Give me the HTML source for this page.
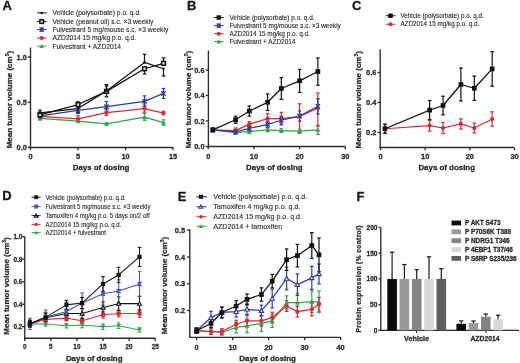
<!DOCTYPE html><html><head><meta charset="utf-8"><style>html,body{margin:0;padding:0;background:#fff;}svg{display:block;font-family:"Liberation Sans",sans-serif;filter:blur(0.35px);}text{stroke:#2a2a2a;stroke-width:0.12px;}text[font-weight=bold]{stroke-width:0.28px;}</style></head><body>
<svg width="520" height="363" viewBox="0 0 520 363">
<rect width="520" height="363" fill="#fff"/>
<text x="2.6" y="10.2" font-size="13" font-weight="bold" text-anchor="start" fill="#111">A</text>
<text x="186.9" y="9.8" font-size="13" font-weight="bold" text-anchor="start" fill="#111">B</text>
<text x="352" y="10" font-size="13" font-weight="bold" text-anchor="start" fill="#111">C</text>
<text x="2.3" y="200.4" font-size="13" font-weight="bold" text-anchor="start" fill="#111">D</text>
<text x="177.7" y="200.5" font-size="13" font-weight="bold" text-anchor="start" fill="#111">E</text>
<text x="356.6" y="200.5" font-size="13" font-weight="bold" text-anchor="start" fill="#111">F</text>
<line x1="30.5" y1="147.5" x2="30.5" y2="47.5" stroke="#2a2a2a" stroke-width="1.35"/>
<line x1="29.82" y1="147.5" x2="173" y2="147.5" stroke="#2a2a2a" stroke-width="1.35"/>
<line x1="27.8" y1="147.4" x2="30.5" y2="147.4" stroke="#2a2a2a" stroke-width="1.35"/>
<text x="26.8" y="149.99" font-size="7.4" font-weight="bold" text-anchor="end" fill="#2a2a2a">0.0</text>
<line x1="27.8" y1="102.2" x2="30.5" y2="102.2" stroke="#2a2a2a" stroke-width="1.35"/>
<text x="26.8" y="104.79" font-size="7.4" font-weight="bold" text-anchor="end" fill="#2a2a2a">0.5</text>
<line x1="27.8" y1="57" x2="30.5" y2="57" stroke="#2a2a2a" stroke-width="1.35"/>
<text x="26.8" y="59.59" font-size="7.4" font-weight="bold" text-anchor="end" fill="#2a2a2a">1.0</text>
<line x1="30.5" y1="147.5" x2="30.5" y2="150.2" stroke="#2a2a2a" stroke-width="1.35"/>
<text x="30.5" y="158.8" font-size="7.4" font-weight="bold" text-anchor="middle" fill="#2a2a2a">0</text>
<line x1="78" y1="147.5" x2="78" y2="150.2" stroke="#2a2a2a" stroke-width="1.35"/>
<text x="78" y="158.8" font-size="7.4" font-weight="bold" text-anchor="middle" fill="#2a2a2a">5</text>
<line x1="125.5" y1="147.5" x2="125.5" y2="150.2" stroke="#2a2a2a" stroke-width="1.35"/>
<text x="125.5" y="158.8" font-size="7.4" font-weight="bold" text-anchor="middle" fill="#2a2a2a">10</text>
<line x1="173" y1="147.5" x2="173" y2="150.2" stroke="#2a2a2a" stroke-width="1.35"/>
<text x="173" y="158.8" font-size="7.4" font-weight="bold" text-anchor="middle" fill="#2a2a2a">15</text>
<text transform="translate(12,99.6) rotate(-90)" x="0" y="0" font-size="8" font-weight="bold" text-anchor="middle" fill="#2a2a2a">Mean tumor volume (cm<tspan dy="-3" font-size="5">3</tspan><tspan dy="3">)</tspan></text>
<text x="101" y="170" font-size="7.9" font-weight="bold" text-anchor="middle" fill="#2a2a2a">Days of dosing</text>
<polyline points="40,118.47 78,121.18 106.5,123.9 144.5,117.12 163.5,122.54" fill="none" stroke="#34a04a" stroke-width="1.25" stroke-linejoin="round"/>
<polyline points="40,116.39 78,118.92 106.5,112.6 144.5,108.53 163.5,113.05" fill="none" stroke="#d52b36" stroke-width="1.25" stroke-linejoin="round"/>
<polyline points="40,115.94 78,110.34 106.5,106.72 144.5,101.3 163.5,93.43" fill="none" stroke="#2f3f96" stroke-width="1.25" stroke-linejoin="round"/>
<polyline points="40,114.86 78,104.55 106.5,91.35 144.5,68.75 163.5,63.33" fill="none" stroke="#111" stroke-width="1.25" stroke-linejoin="round"/>
<polyline points="40,112.87 78,108.53 106.5,90.9 144.5,62.42 163.5,68.75" fill="none" stroke="#111" stroke-width="1.25" stroke-linejoin="round"/>
<line x1="40" y1="117.12" x2="40" y2="119.83" stroke="#34a04a" stroke-width="1.2"/>
<line x1="38.2" y1="117.12" x2="41.8" y2="117.12" stroke="#34a04a" stroke-width="1.2"/>
<line x1="38.2" y1="119.83" x2="41.8" y2="119.83" stroke="#34a04a" stroke-width="1.2"/>
<line x1="78" y1="119.83" x2="78" y2="122.54" stroke="#34a04a" stroke-width="1.2"/>
<line x1="76.2" y1="119.83" x2="79.8" y2="119.83" stroke="#34a04a" stroke-width="1.2"/>
<line x1="76.2" y1="122.54" x2="79.8" y2="122.54" stroke="#34a04a" stroke-width="1.2"/>
<line x1="106.5" y1="122.81" x2="106.5" y2="124.98" stroke="#34a04a" stroke-width="1.2"/>
<line x1="104.7" y1="122.81" x2="108.3" y2="122.81" stroke="#34a04a" stroke-width="1.2"/>
<line x1="104.7" y1="124.98" x2="108.3" y2="124.98" stroke="#34a04a" stroke-width="1.2"/>
<line x1="144.5" y1="113.5" x2="144.5" y2="120.28" stroke="#34a04a" stroke-width="1.2"/>
<line x1="142.7" y1="113.5" x2="146.3" y2="113.5" stroke="#34a04a" stroke-width="1.2"/>
<line x1="142.7" y1="120.28" x2="146.3" y2="120.28" stroke="#34a04a" stroke-width="1.2"/>
<line x1="163.5" y1="119.83" x2="163.5" y2="125.25" stroke="#34a04a" stroke-width="1.2"/>
<line x1="161.7" y1="119.83" x2="165.3" y2="119.83" stroke="#34a04a" stroke-width="1.2"/>
<line x1="161.7" y1="125.25" x2="165.3" y2="125.25" stroke="#34a04a" stroke-width="1.2"/>
<line x1="40" y1="114.58" x2="40" y2="118.2" stroke="#d52b36" stroke-width="1.2"/>
<line x1="38.2" y1="114.58" x2="41.8" y2="114.58" stroke="#d52b36" stroke-width="1.2"/>
<line x1="38.2" y1="118.2" x2="41.8" y2="118.2" stroke="#d52b36" stroke-width="1.2"/>
<line x1="78" y1="115.76" x2="78" y2="122.09" stroke="#d52b36" stroke-width="1.2"/>
<line x1="76.2" y1="115.76" x2="79.8" y2="115.76" stroke="#d52b36" stroke-width="1.2"/>
<line x1="76.2" y1="122.09" x2="79.8" y2="122.09" stroke="#d52b36" stroke-width="1.2"/>
<line x1="106.5" y1="109.88" x2="106.5" y2="115.31" stroke="#d52b36" stroke-width="1.2"/>
<line x1="104.7" y1="109.88" x2="108.3" y2="109.88" stroke="#d52b36" stroke-width="1.2"/>
<line x1="104.7" y1="115.31" x2="108.3" y2="115.31" stroke="#d52b36" stroke-width="1.2"/>
<line x1="144.5" y1="104.91" x2="144.5" y2="112.14" stroke="#d52b36" stroke-width="1.2"/>
<line x1="142.7" y1="104.91" x2="146.3" y2="104.91" stroke="#d52b36" stroke-width="1.2"/>
<line x1="142.7" y1="112.14" x2="146.3" y2="112.14" stroke="#d52b36" stroke-width="1.2"/>
<line x1="163.5" y1="111.24" x2="163.5" y2="114.86" stroke="#d52b36" stroke-width="1.2"/>
<line x1="161.7" y1="111.24" x2="165.3" y2="111.24" stroke="#d52b36" stroke-width="1.2"/>
<line x1="161.7" y1="114.86" x2="165.3" y2="114.86" stroke="#d52b36" stroke-width="1.2"/>
<line x1="40" y1="114.13" x2="40" y2="117.75" stroke="#2f3f96" stroke-width="1.2"/>
<line x1="38.2" y1="114.13" x2="41.8" y2="114.13" stroke="#2f3f96" stroke-width="1.2"/>
<line x1="38.2" y1="117.75" x2="41.8" y2="117.75" stroke="#2f3f96" stroke-width="1.2"/>
<line x1="78" y1="107.17" x2="78" y2="113.5" stroke="#2f3f96" stroke-width="1.2"/>
<line x1="76.2" y1="107.17" x2="79.8" y2="107.17" stroke="#2f3f96" stroke-width="1.2"/>
<line x1="76.2" y1="113.5" x2="79.8" y2="113.5" stroke="#2f3f96" stroke-width="1.2"/>
<line x1="106.5" y1="101.57" x2="106.5" y2="111.87" stroke="#2f3f96" stroke-width="1.2"/>
<line x1="104.7" y1="101.57" x2="108.3" y2="101.57" stroke="#2f3f96" stroke-width="1.2"/>
<line x1="104.7" y1="111.87" x2="108.3" y2="111.87" stroke="#2f3f96" stroke-width="1.2"/>
<line x1="144.5" y1="95.87" x2="144.5" y2="106.72" stroke="#2f3f96" stroke-width="1.2"/>
<line x1="142.7" y1="95.87" x2="146.3" y2="95.87" stroke="#2f3f96" stroke-width="1.2"/>
<line x1="142.7" y1="106.72" x2="146.3" y2="106.72" stroke="#2f3f96" stroke-width="1.2"/>
<line x1="163.5" y1="88.46" x2="163.5" y2="98.4" stroke="#2f3f96" stroke-width="1.2"/>
<line x1="161.7" y1="88.46" x2="165.3" y2="88.46" stroke="#2f3f96" stroke-width="1.2"/>
<line x1="161.7" y1="98.4" x2="165.3" y2="98.4" stroke="#2f3f96" stroke-width="1.2"/>
<line x1="40" y1="112.14" x2="40" y2="117.57" stroke="#111" stroke-width="1.2"/>
<line x1="38.2" y1="112.14" x2="41.8" y2="112.14" stroke="#111" stroke-width="1.2"/>
<line x1="38.2" y1="117.57" x2="41.8" y2="117.57" stroke="#111" stroke-width="1.2"/>
<line x1="78" y1="101.84" x2="78" y2="104.55" stroke="#111" stroke-width="1.2"/>
<line x1="76.2" y1="101.84" x2="79.8" y2="101.84" stroke="#111" stroke-width="1.2"/>
<line x1="106.5" y1="85.93" x2="106.5" y2="96.78" stroke="#111" stroke-width="1.2"/>
<line x1="104.7" y1="85.93" x2="108.3" y2="85.93" stroke="#111" stroke-width="1.2"/>
<line x1="104.7" y1="96.78" x2="108.3" y2="96.78" stroke="#111" stroke-width="1.2"/>
<line x1="144.5" y1="68.75" x2="144.5" y2="74" stroke="#111" stroke-width="1.2"/>
<line x1="142.7" y1="74" x2="146.3" y2="74" stroke="#111" stroke-width="1.2"/>
<line x1="163.5" y1="57.9" x2="163.5" y2="63.33" stroke="#111" stroke-width="1.2"/>
<line x1="161.7" y1="57.9" x2="165.3" y2="57.9" stroke="#111" stroke-width="1.2"/>
<line x1="40" y1="110.16" x2="40" y2="115.58" stroke="#111" stroke-width="1.2"/>
<line x1="38.2" y1="110.16" x2="41.8" y2="110.16" stroke="#111" stroke-width="1.2"/>
<line x1="38.2" y1="115.58" x2="41.8" y2="115.58" stroke="#111" stroke-width="1.2"/>
<line x1="78" y1="108.53" x2="78" y2="112.6" stroke="#111" stroke-width="1.2"/>
<line x1="76.2" y1="112.6" x2="79.8" y2="112.6" stroke="#111" stroke-width="1.2"/>
<line x1="106.5" y1="84.57" x2="106.5" y2="90.9" stroke="#111" stroke-width="1.2"/>
<line x1="104.7" y1="84.57" x2="108.3" y2="84.57" stroke="#111" stroke-width="1.2"/>
<line x1="144.5" y1="54.29" x2="144.5" y2="62.42" stroke="#111" stroke-width="1.2"/>
<line x1="142.7" y1="54.29" x2="146.3" y2="54.29" stroke="#111" stroke-width="1.2"/>
<line x1="163.5" y1="68.75" x2="163.5" y2="75.98" stroke="#111" stroke-width="1.2"/>
<line x1="161.7" y1="75.98" x2="165.3" y2="75.98" stroke="#111" stroke-width="1.2"/>
<path d="M40 116.07L42.4 120.39L37.6 120.39Z" fill="#34a04a"/>
<path d="M78 118.78L80.4 123.1L75.6 123.1Z" fill="#34a04a"/>
<path d="M106.5 121.5L108.9 125.82L104.1 125.82Z" fill="#34a04a"/>
<path d="M144.5 114.72L146.9 119.04L142.1 119.04Z" fill="#34a04a"/>
<path d="M163.5 120.14L165.9 124.46L161.1 124.46Z" fill="#34a04a"/>
<circle cx="40" cy="116.39" r="2.1" fill="#d52b36"/>
<circle cx="78" cy="118.92" r="2.1" fill="#d52b36"/>
<circle cx="106.5" cy="112.6" r="2.1" fill="#d52b36"/>
<circle cx="144.5" cy="108.53" r="2.1" fill="#d52b36"/>
<circle cx="163.5" cy="113.05" r="2.1" fill="#d52b36"/>
<path d="M37.8 113.74L42.2 118.14M42.2 113.74L37.8 118.14M40 113.52L40 118.36" stroke="#2f3f96" stroke-width="1.3" fill="none"/>
<path d="M75.8 108.14L80.2 112.54M80.2 108.14L75.8 112.54M78 107.92L78 112.76" stroke="#2f3f96" stroke-width="1.3" fill="none"/>
<path d="M104.3 104.52L108.7 108.92M108.7 104.52L104.3 108.92M106.5 104.3L106.5 109.14" stroke="#2f3f96" stroke-width="1.3" fill="none"/>
<path d="M142.3 99.1L146.7 103.5M146.7 99.1L142.3 103.5M144.5 98.88L144.5 103.72" stroke="#2f3f96" stroke-width="1.3" fill="none"/>
<path d="M161.3 91.23L165.7 95.63M165.7 91.23L161.3 95.63M163.5 91.01L163.5 95.85" stroke="#2f3f96" stroke-width="1.3" fill="none"/>
<rect x="38.1" y="112.96" width="3.8" height="3.8" fill="#e4e4e4" stroke="#111" stroke-width="1.5"/>
<rect x="76.1" y="102.65" width="3.8" height="3.8" fill="#e4e4e4" stroke="#111" stroke-width="1.5"/>
<rect x="104.6" y="89.45" width="3.8" height="3.8" fill="#e4e4e4" stroke="#111" stroke-width="1.5"/>
<rect x="142.6" y="66.85" width="3.8" height="3.8" fill="#e4e4e4" stroke="#111" stroke-width="1.5"/>
<rect x="161.6" y="61.43" width="3.8" height="3.8" fill="#e4e4e4" stroke="#111" stroke-width="1.5"/>
<circle cx="40" cy="112.87" r="1.3" fill="#111"/>
<circle cx="78" cy="108.53" r="1.3" fill="#111"/>
<circle cx="106.5" cy="90.9" r="1.3" fill="#111"/>
<circle cx="144.5" cy="62.42" r="1.3" fill="#111"/>
<circle cx="163.5" cy="68.75" r="1.3" fill="#111"/>
<line x1="37" y1="12.9" x2="46.7" y2="12.9" stroke="#111" stroke-width="1.0"/>
<circle cx="41.7" cy="12.9" r="1.23" fill="#111"/>
<text x="52.5" y="15.25" font-size="6.7" text-anchor="start" fill="#2a2a2a">Vehicle (polysorbate) p.o. q.d.</text>
<line x1="37" y1="21.6" x2="46.7" y2="21.6" stroke="#111" stroke-width="1.0"/>
<rect x="39.9" y="19.8" width="3.61" height="3.61" fill="#e4e4e4" stroke="#111" stroke-width="1.5"/>
<text x="52.5" y="23.95" font-size="6.7" text-anchor="start" fill="#2a2a2a">Vehicle (peanut oil) s.c. ×3 weekly</text>
<line x1="37" y1="29.6" x2="46.7" y2="29.6" stroke="#2f3f96" stroke-width="1.0"/>
<path d="M39.61 27.51L43.79 31.69M43.79 27.51L39.61 31.69M41.7 27.3L41.7 31.9" stroke="#2f3f96" stroke-width="1.3" fill="none"/>
<text x="52.5" y="31.95" font-size="6.7" text-anchor="start" fill="#2a2a2a">Fulvestrant 5 mg/mouse s.c. ×3 weekly</text>
<line x1="37" y1="38.1" x2="46.7" y2="38.1" stroke="#d52b36" stroke-width="1.0"/>
<circle cx="41.7" cy="38.1" r="1.99" fill="#d52b36"/>
<text x="52.5" y="40.45" font-size="6.7" text-anchor="start" fill="#2a2a2a">AZD2014 15 mg/kg p.o. q.d.</text>
<line x1="37" y1="46.2" x2="46.7" y2="46.2" stroke="#34a04a" stroke-width="1.0"/>
<path d="M41.7 43.92L43.98 48.02L39.42 48.02Z" fill="#34a04a"/>
<text x="52.5" y="48.55" font-size="6.7" text-anchor="start" fill="#2a2a2a">Fulvestrant + AZD2014</text>
<line x1="208.4" y1="146.5" x2="208.4" y2="50.5" stroke="#2a2a2a" stroke-width="1.35"/>
<line x1="207.72" y1="146.5" x2="345.3" y2="146.5" stroke="#2a2a2a" stroke-width="1.35"/>
<line x1="205.7" y1="146.5" x2="208.4" y2="146.5" stroke="#2a2a2a" stroke-width="1.35"/>
<text x="204.5" y="149.09" font-size="7.4" font-weight="bold" text-anchor="end" fill="#2a2a2a">0.0</text>
<line x1="205.7" y1="121" x2="208.4" y2="121" stroke="#2a2a2a" stroke-width="1.35"/>
<text x="204.5" y="123.59" font-size="7.4" font-weight="bold" text-anchor="end" fill="#2a2a2a">0.2</text>
<line x1="205.7" y1="95.5" x2="208.4" y2="95.5" stroke="#2a2a2a" stroke-width="1.35"/>
<text x="204.5" y="98.09" font-size="7.4" font-weight="bold" text-anchor="end" fill="#2a2a2a">0.4</text>
<line x1="205.7" y1="70" x2="208.4" y2="70" stroke="#2a2a2a" stroke-width="1.35"/>
<text x="204.5" y="72.59" font-size="7.4" font-weight="bold" text-anchor="end" fill="#2a2a2a">0.6</text>
<line x1="208.2" y1="146.5" x2="208.2" y2="149.2" stroke="#2a2a2a" stroke-width="1.35"/>
<text x="208.2" y="158.6" font-size="7.4" font-weight="bold" text-anchor="middle" fill="#2a2a2a">0</text>
<line x1="253.9" y1="146.5" x2="253.9" y2="149.2" stroke="#2a2a2a" stroke-width="1.35"/>
<text x="253.9" y="158.6" font-size="7.4" font-weight="bold" text-anchor="middle" fill="#2a2a2a">10</text>
<line x1="299.6" y1="146.5" x2="299.6" y2="149.2" stroke="#2a2a2a" stroke-width="1.35"/>
<text x="299.6" y="158.6" font-size="7.4" font-weight="bold" text-anchor="middle" fill="#2a2a2a">20</text>
<line x1="345.3" y1="146.5" x2="345.3" y2="149.2" stroke="#2a2a2a" stroke-width="1.35"/>
<text x="345.3" y="158.6" font-size="7.4" font-weight="bold" text-anchor="middle" fill="#2a2a2a">30</text>
<text transform="translate(191.4,99.5) rotate(-90)" x="0" y="0" font-size="8" font-weight="bold" text-anchor="middle" fill="#2a2a2a">Mean tumor volume (cm<tspan dy="-3" font-size="5">3</tspan><tspan dy="3">)</tspan></text>
<text x="274.4" y="170.4" font-size="7.9" font-weight="bold" text-anchor="middle" fill="#2a2a2a">Days of dosing</text>
<polyline points="212.77,129.93 235.62,132.6 249.33,131.71 267.61,129.93 281.32,130.56 299.6,131.2 317.88,129.93" fill="none" stroke="#34a04a" stroke-width="1.25" stroke-linejoin="round"/>
<polyline points="212.77,129.93 235.62,130.56 249.33,124.19 267.61,118.7 281.32,118.7 299.6,116.54 317.88,108.25" fill="none" stroke="#d52b36" stroke-width="1.25" stroke-linejoin="round"/>
<polyline points="212.77,129.93 235.62,131.97 249.33,128.4 267.61,124.31 281.32,120.23 299.6,116.03 317.88,106.34" fill="none" stroke="#2f3f96" stroke-width="1.25" stroke-linejoin="round"/>
<polyline points="212.77,129.93 235.62,119.72 249.33,111.06 267.61,102.26 281.32,88.49 299.6,80.84 317.88,71.53" fill="none" stroke="#111" stroke-width="1.25" stroke-linejoin="round"/>
<line x1="212.77" y1="128.4" x2="212.77" y2="131.45" stroke="#34a04a" stroke-width="1.2"/>
<line x1="210.97" y1="128.4" x2="214.57" y2="128.4" stroke="#34a04a" stroke-width="1.2"/>
<line x1="210.97" y1="131.45" x2="214.57" y2="131.45" stroke="#34a04a" stroke-width="1.2"/>
<line x1="235.62" y1="131.33" x2="235.62" y2="133.88" stroke="#34a04a" stroke-width="1.2"/>
<line x1="233.82" y1="131.33" x2="237.42" y2="131.33" stroke="#34a04a" stroke-width="1.2"/>
<line x1="233.82" y1="133.88" x2="237.42" y2="133.88" stroke="#34a04a" stroke-width="1.2"/>
<line x1="249.33" y1="130.18" x2="249.33" y2="133.24" stroke="#34a04a" stroke-width="1.2"/>
<line x1="247.53" y1="130.18" x2="251.13" y2="130.18" stroke="#34a04a" stroke-width="1.2"/>
<line x1="247.53" y1="133.24" x2="251.13" y2="133.24" stroke="#34a04a" stroke-width="1.2"/>
<line x1="267.61" y1="128.01" x2="267.61" y2="131.84" stroke="#34a04a" stroke-width="1.2"/>
<line x1="265.81" y1="128.01" x2="269.41" y2="128.01" stroke="#34a04a" stroke-width="1.2"/>
<line x1="265.81" y1="131.84" x2="269.41" y2="131.84" stroke="#34a04a" stroke-width="1.2"/>
<line x1="281.32" y1="128.65" x2="281.32" y2="132.47" stroke="#34a04a" stroke-width="1.2"/>
<line x1="279.52" y1="128.65" x2="283.12" y2="128.65" stroke="#34a04a" stroke-width="1.2"/>
<line x1="279.52" y1="132.47" x2="283.12" y2="132.47" stroke="#34a04a" stroke-width="1.2"/>
<line x1="299.6" y1="129.29" x2="299.6" y2="133.11" stroke="#34a04a" stroke-width="1.2"/>
<line x1="297.8" y1="129.29" x2="301.4" y2="129.29" stroke="#34a04a" stroke-width="1.2"/>
<line x1="297.8" y1="133.11" x2="301.4" y2="133.11" stroke="#34a04a" stroke-width="1.2"/>
<line x1="317.88" y1="125.46" x2="317.88" y2="134.39" stroke="#34a04a" stroke-width="1.2"/>
<line x1="316.08" y1="125.46" x2="319.68" y2="125.46" stroke="#34a04a" stroke-width="1.2"/>
<line x1="316.08" y1="134.39" x2="319.68" y2="134.39" stroke="#34a04a" stroke-width="1.2"/>
<line x1="212.77" y1="128.4" x2="212.77" y2="131.45" stroke="#d52b36" stroke-width="1.2"/>
<line x1="210.97" y1="128.4" x2="214.57" y2="128.4" stroke="#d52b36" stroke-width="1.2"/>
<line x1="210.97" y1="131.45" x2="214.57" y2="131.45" stroke="#d52b36" stroke-width="1.2"/>
<line x1="235.62" y1="128.01" x2="235.62" y2="133.11" stroke="#d52b36" stroke-width="1.2"/>
<line x1="233.82" y1="128.01" x2="237.42" y2="128.01" stroke="#d52b36" stroke-width="1.2"/>
<line x1="233.82" y1="133.11" x2="237.42" y2="133.11" stroke="#d52b36" stroke-width="1.2"/>
<line x1="249.33" y1="121.64" x2="249.33" y2="126.74" stroke="#d52b36" stroke-width="1.2"/>
<line x1="247.53" y1="121.64" x2="251.13" y2="121.64" stroke="#d52b36" stroke-width="1.2"/>
<line x1="247.53" y1="126.74" x2="251.13" y2="126.74" stroke="#d52b36" stroke-width="1.2"/>
<line x1="267.61" y1="113.6" x2="267.61" y2="123.81" stroke="#d52b36" stroke-width="1.2"/>
<line x1="265.81" y1="113.6" x2="269.41" y2="113.6" stroke="#d52b36" stroke-width="1.2"/>
<line x1="265.81" y1="123.81" x2="269.41" y2="123.81" stroke="#d52b36" stroke-width="1.2"/>
<line x1="281.32" y1="112.33" x2="281.32" y2="125.08" stroke="#d52b36" stroke-width="1.2"/>
<line x1="279.52" y1="112.33" x2="283.12" y2="112.33" stroke="#d52b36" stroke-width="1.2"/>
<line x1="279.52" y1="125.08" x2="283.12" y2="125.08" stroke="#d52b36" stroke-width="1.2"/>
<line x1="299.6" y1="103.79" x2="299.6" y2="133.11" stroke="#d52b36" stroke-width="1.2"/>
<line x1="297.8" y1="103.79" x2="301.4" y2="103.79" stroke="#d52b36" stroke-width="1.2"/>
<line x1="297.8" y1="133.11" x2="301.4" y2="133.11" stroke="#d52b36" stroke-width="1.2"/>
<line x1="317.88" y1="92.95" x2="317.88" y2="126.1" stroke="#d52b36" stroke-width="1.2"/>
<line x1="316.08" y1="92.95" x2="319.68" y2="92.95" stroke="#d52b36" stroke-width="1.2"/>
<line x1="316.08" y1="126.1" x2="319.68" y2="126.1" stroke="#d52b36" stroke-width="1.2"/>
<line x1="212.77" y1="128.4" x2="212.77" y2="131.45" stroke="#2f3f96" stroke-width="1.2"/>
<line x1="210.97" y1="128.4" x2="214.57" y2="128.4" stroke="#2f3f96" stroke-width="1.2"/>
<line x1="210.97" y1="131.45" x2="214.57" y2="131.45" stroke="#2f3f96" stroke-width="1.2"/>
<line x1="235.62" y1="130.05" x2="235.62" y2="133.88" stroke="#2f3f96" stroke-width="1.2"/>
<line x1="233.82" y1="130.05" x2="237.42" y2="130.05" stroke="#2f3f96" stroke-width="1.2"/>
<line x1="233.82" y1="133.88" x2="237.42" y2="133.88" stroke="#2f3f96" stroke-width="1.2"/>
<line x1="249.33" y1="125.84" x2="249.33" y2="130.94" stroke="#2f3f96" stroke-width="1.2"/>
<line x1="247.53" y1="125.84" x2="251.13" y2="125.84" stroke="#2f3f96" stroke-width="1.2"/>
<line x1="247.53" y1="130.94" x2="251.13" y2="130.94" stroke="#2f3f96" stroke-width="1.2"/>
<line x1="267.61" y1="121.13" x2="267.61" y2="127.5" stroke="#2f3f96" stroke-width="1.2"/>
<line x1="265.81" y1="121.13" x2="269.41" y2="121.13" stroke="#2f3f96" stroke-width="1.2"/>
<line x1="265.81" y1="127.5" x2="269.41" y2="127.5" stroke="#2f3f96" stroke-width="1.2"/>
<line x1="281.32" y1="116.41" x2="281.32" y2="124.06" stroke="#2f3f96" stroke-width="1.2"/>
<line x1="279.52" y1="116.41" x2="283.12" y2="116.41" stroke="#2f3f96" stroke-width="1.2"/>
<line x1="279.52" y1="124.06" x2="283.12" y2="124.06" stroke="#2f3f96" stroke-width="1.2"/>
<line x1="299.6" y1="110.93" x2="299.6" y2="121.13" stroke="#2f3f96" stroke-width="1.2"/>
<line x1="297.8" y1="110.93" x2="301.4" y2="110.93" stroke="#2f3f96" stroke-width="1.2"/>
<line x1="297.8" y1="121.13" x2="301.4" y2="121.13" stroke="#2f3f96" stroke-width="1.2"/>
<line x1="317.88" y1="98.69" x2="317.88" y2="113.99" stroke="#2f3f96" stroke-width="1.2"/>
<line x1="316.08" y1="98.69" x2="319.68" y2="98.69" stroke="#2f3f96" stroke-width="1.2"/>
<line x1="316.08" y1="113.99" x2="319.68" y2="113.99" stroke="#2f3f96" stroke-width="1.2"/>
<line x1="212.77" y1="128.01" x2="212.77" y2="131.84" stroke="#111" stroke-width="1.2"/>
<line x1="210.97" y1="128.01" x2="214.57" y2="128.01" stroke="#111" stroke-width="1.2"/>
<line x1="210.97" y1="131.84" x2="214.57" y2="131.84" stroke="#111" stroke-width="1.2"/>
<line x1="235.62" y1="116.16" x2="235.62" y2="123.3" stroke="#111" stroke-width="1.2"/>
<line x1="233.82" y1="116.16" x2="237.42" y2="116.16" stroke="#111" stroke-width="1.2"/>
<line x1="233.82" y1="123.3" x2="237.42" y2="123.3" stroke="#111" stroke-width="1.2"/>
<line x1="249.33" y1="105.95" x2="249.33" y2="116.16" stroke="#111" stroke-width="1.2"/>
<line x1="247.53" y1="105.95" x2="251.13" y2="105.95" stroke="#111" stroke-width="1.2"/>
<line x1="247.53" y1="116.16" x2="251.13" y2="116.16" stroke="#111" stroke-width="1.2"/>
<line x1="267.61" y1="93.97" x2="267.61" y2="110.55" stroke="#111" stroke-width="1.2"/>
<line x1="265.81" y1="93.97" x2="269.41" y2="93.97" stroke="#111" stroke-width="1.2"/>
<line x1="265.81" y1="110.55" x2="269.41" y2="110.55" stroke="#111" stroke-width="1.2"/>
<line x1="281.32" y1="77.65" x2="281.32" y2="99.33" stroke="#111" stroke-width="1.2"/>
<line x1="279.52" y1="77.65" x2="283.12" y2="77.65" stroke="#111" stroke-width="1.2"/>
<line x1="279.52" y1="99.33" x2="283.12" y2="99.33" stroke="#111" stroke-width="1.2"/>
<line x1="299.6" y1="69.36" x2="299.6" y2="92.31" stroke="#111" stroke-width="1.2"/>
<line x1="297.8" y1="69.36" x2="301.4" y2="69.36" stroke="#111" stroke-width="1.2"/>
<line x1="297.8" y1="92.31" x2="301.4" y2="92.31" stroke="#111" stroke-width="1.2"/>
<line x1="317.88" y1="57.89" x2="317.88" y2="85.17" stroke="#111" stroke-width="1.2"/>
<line x1="316.08" y1="57.89" x2="319.68" y2="57.89" stroke="#111" stroke-width="1.2"/>
<line x1="316.08" y1="85.17" x2="319.68" y2="85.17" stroke="#111" stroke-width="1.2"/>
<path d="M212.77 127.53L215.17 131.84L210.37 131.84Z" fill="#34a04a"/>
<path d="M235.62 130.2L238.02 134.52L233.22 134.52Z" fill="#34a04a"/>
<path d="M249.33 129.31L251.73 133.63L246.93 133.63Z" fill="#34a04a"/>
<path d="M267.61 127.53L270.01 131.84L265.21 131.84Z" fill="#34a04a"/>
<path d="M281.32 128.16L283.72 132.48L278.92 132.48Z" fill="#34a04a"/>
<path d="M299.6 128.8L302 133.12L297.2 133.12Z" fill="#34a04a"/>
<path d="M317.88 127.53L320.28 131.84L315.48 131.84Z" fill="#34a04a"/>
<circle cx="212.77" cy="129.93" r="2.1" fill="#d52b36"/>
<circle cx="235.62" cy="130.56" r="2.1" fill="#d52b36"/>
<circle cx="249.33" cy="124.19" r="2.1" fill="#d52b36"/>
<circle cx="267.61" cy="118.7" r="2.1" fill="#d52b36"/>
<circle cx="281.32" cy="118.7" r="2.1" fill="#d52b36"/>
<circle cx="299.6" cy="116.54" r="2.1" fill="#d52b36"/>
<circle cx="317.88" cy="108.25" r="2.1" fill="#d52b36"/>
<path d="M210.57 127.73L214.97 132.12M214.97 127.73L210.57 132.12M212.77 127.51L212.77 132.34" stroke="#2f3f96" stroke-width="1.3" fill="none"/>
<path d="M233.42 129.77L237.82 134.16M237.82 129.77L233.42 134.16M235.62 129.55L235.62 134.38" stroke="#2f3f96" stroke-width="1.3" fill="none"/>
<path d="M247.13 126.2L251.53 130.59M251.53 126.2L247.13 130.59M249.33 125.98L249.33 130.81" stroke="#2f3f96" stroke-width="1.3" fill="none"/>
<path d="M265.41 122.11L269.81 126.52M269.81 122.11L265.41 126.52M267.61 121.89L267.61 126.73" stroke="#2f3f96" stroke-width="1.3" fill="none"/>
<path d="M279.12 118.03L283.52 122.44M283.52 118.03L279.12 122.44M281.32 117.81L281.32 122.66" stroke="#2f3f96" stroke-width="1.3" fill="none"/>
<path d="M297.4 113.83L301.8 118.23M301.8 113.83L297.4 118.23M299.6 113.61L299.6 118.45" stroke="#2f3f96" stroke-width="1.3" fill="none"/>
<path d="M315.68 104.14L320.08 108.54M320.08 104.14L315.68 108.54M317.88 103.92L317.88 108.76" stroke="#2f3f96" stroke-width="1.3" fill="none"/>
<rect x="210.42" y="127.58" width="4.7" height="4.7" fill="#111"/>
<rect x="233.27" y="117.38" width="4.7" height="4.7" fill="#111"/>
<rect x="246.98" y="108.71" width="4.7" height="4.7" fill="#111"/>
<rect x="265.26" y="99.91" width="4.7" height="4.7" fill="#111"/>
<rect x="278.97" y="86.14" width="4.7" height="4.7" fill="#111"/>
<rect x="297.25" y="78.49" width="4.7" height="4.7" fill="#111"/>
<rect x="315.53" y="69.18" width="4.7" height="4.7" fill="#111"/>
<line x1="214" y1="17.5" x2="223.7" y2="17.5" stroke="#111" stroke-width="1.0"/>
<rect x="216.57" y="15.27" width="4.46" height="4.46" fill="#111"/>
<text x="229.4" y="19.76" font-size="6.45" text-anchor="start" fill="#2a2a2a">Vehicle (polysorbate) p.o. q.d.</text>
<line x1="214" y1="25.6" x2="223.7" y2="25.6" stroke="#2f3f96" stroke-width="1.0"/>
<path d="M216.71 23.51L220.89 27.69M220.89 23.51L216.71 27.69M218.8 23.3L218.8 27.9" stroke="#2f3f96" stroke-width="1.3" fill="none"/>
<text x="229.4" y="27.86" font-size="6.45" text-anchor="start" fill="#2a2a2a">Fulvestrant 5 mg/mouse s.c. ×3 weekly</text>
<line x1="214" y1="33.7" x2="223.7" y2="33.7" stroke="#d52b36" stroke-width="1.0"/>
<circle cx="218.8" cy="33.7" r="1.99" fill="#d52b36"/>
<text x="229.4" y="35.96" font-size="6.45" text-anchor="start" fill="#2a2a2a">AZD2014 15 mg/kg p.o. q.d.</text>
<line x1="214" y1="41.6" x2="223.7" y2="41.6" stroke="#34a04a" stroke-width="1.0"/>
<path d="M218.8 39.32L221.08 43.42L216.52 43.42Z" fill="#34a04a"/>
<text x="229.4" y="43.86" font-size="6.45" text-anchor="start" fill="#2a2a2a">Fulvestrant + AZD2014</text>
<line x1="380.2" y1="147.5" x2="380.2" y2="49.6" stroke="#2a2a2a" stroke-width="1.35"/>
<line x1="379.52" y1="147.5" x2="514" y2="147.5" stroke="#2a2a2a" stroke-width="1.35"/>
<line x1="377.5" y1="132.5" x2="380.2" y2="132.5" stroke="#2a2a2a" stroke-width="1.35"/>
<text x="376.3" y="135.09" font-size="7.4" font-weight="bold" text-anchor="end" fill="#2a2a2a">0.2</text>
<line x1="377.5" y1="102.5" x2="380.2" y2="102.5" stroke="#2a2a2a" stroke-width="1.35"/>
<text x="376.3" y="105.09" font-size="7.4" font-weight="bold" text-anchor="end" fill="#2a2a2a">0.4</text>
<line x1="377.5" y1="72.5" x2="380.2" y2="72.5" stroke="#2a2a2a" stroke-width="1.35"/>
<text x="376.3" y="75.09" font-size="7.4" font-weight="bold" text-anchor="end" fill="#2a2a2a">0.6</text>
<line x1="380.5" y1="147.5" x2="380.5" y2="150.2" stroke="#2a2a2a" stroke-width="1.35"/>
<text x="380.5" y="158.8" font-size="7.4" font-weight="bold" text-anchor="middle" fill="#2a2a2a">0</text>
<line x1="425.17" y1="147.5" x2="425.17" y2="150.2" stroke="#2a2a2a" stroke-width="1.35"/>
<text x="425.17" y="158.8" font-size="7.4" font-weight="bold" text-anchor="middle" fill="#2a2a2a">10</text>
<line x1="469.84" y1="147.5" x2="469.84" y2="150.2" stroke="#2a2a2a" stroke-width="1.35"/>
<text x="469.84" y="158.8" font-size="7.4" font-weight="bold" text-anchor="middle" fill="#2a2a2a">20</text>
<line x1="514.51" y1="147.5" x2="514.51" y2="150.2" stroke="#2a2a2a" stroke-width="1.35"/>
<text x="514.51" y="158.8" font-size="7.4" font-weight="bold" text-anchor="middle" fill="#2a2a2a">30</text>
<text transform="translate(361.3,99.8) rotate(-90)" x="0" y="0" font-size="8" font-weight="bold" text-anchor="middle" fill="#2a2a2a">Mean tumor volume (cm<tspan dy="-3" font-size="5">3</tspan><tspan dy="3">)</tspan></text>
<text x="446.7" y="170.4" font-size="7.9" font-weight="bold" text-anchor="middle" fill="#2a2a2a">Days of dosing</text>
<polyline points="384.97,128.75 429.64,125.6 443.04,128 460.91,123.95 474.31,128 492.18,119" fill="none" stroke="#d52b36" stroke-width="1.25" stroke-linejoin="round"/>
<polyline points="384.97,128.75 429.64,110.15 443.04,105.5 460.91,84.5 474.31,88.25 492.18,68.9" fill="none" stroke="#111" stroke-width="1.25" stroke-linejoin="round"/>
<line x1="384.97" y1="124.25" x2="384.97" y2="133.25" stroke="#d52b36" stroke-width="1.2"/>
<line x1="383.17" y1="124.25" x2="386.77" y2="124.25" stroke="#d52b36" stroke-width="1.2"/>
<line x1="383.17" y1="133.25" x2="386.77" y2="133.25" stroke="#d52b36" stroke-width="1.2"/>
<line x1="429.64" y1="120.05" x2="429.64" y2="131.15" stroke="#d52b36" stroke-width="1.2"/>
<line x1="427.84" y1="120.05" x2="431.44" y2="120.05" stroke="#d52b36" stroke-width="1.2"/>
<line x1="427.84" y1="131.15" x2="431.44" y2="131.15" stroke="#d52b36" stroke-width="1.2"/>
<line x1="443.04" y1="122.45" x2="443.04" y2="133.55" stroke="#d52b36" stroke-width="1.2"/>
<line x1="441.24" y1="122.45" x2="444.84" y2="122.45" stroke="#d52b36" stroke-width="1.2"/>
<line x1="441.24" y1="133.55" x2="444.84" y2="133.55" stroke="#d52b36" stroke-width="1.2"/>
<line x1="460.91" y1="118.85" x2="460.91" y2="129.05" stroke="#d52b36" stroke-width="1.2"/>
<line x1="459.11" y1="118.85" x2="462.71" y2="118.85" stroke="#d52b36" stroke-width="1.2"/>
<line x1="459.11" y1="129.05" x2="462.71" y2="129.05" stroke="#d52b36" stroke-width="1.2"/>
<line x1="474.31" y1="123.05" x2="474.31" y2="132.95" stroke="#d52b36" stroke-width="1.2"/>
<line x1="472.51" y1="123.05" x2="476.11" y2="123.05" stroke="#d52b36" stroke-width="1.2"/>
<line x1="472.51" y1="132.95" x2="476.11" y2="132.95" stroke="#d52b36" stroke-width="1.2"/>
<line x1="492.18" y1="111.8" x2="492.18" y2="126.2" stroke="#d52b36" stroke-width="1.2"/>
<line x1="490.38" y1="111.8" x2="493.98" y2="111.8" stroke="#d52b36" stroke-width="1.2"/>
<line x1="490.38" y1="126.2" x2="493.98" y2="126.2" stroke="#d52b36" stroke-width="1.2"/>
<line x1="384.97" y1="124.25" x2="384.97" y2="133.25" stroke="#111" stroke-width="1.2"/>
<line x1="383.17" y1="124.25" x2="386.77" y2="124.25" stroke="#111" stroke-width="1.2"/>
<line x1="383.17" y1="133.25" x2="386.77" y2="133.25" stroke="#111" stroke-width="1.2"/>
<line x1="429.64" y1="100.55" x2="429.64" y2="119.75" stroke="#111" stroke-width="1.2"/>
<line x1="427.84" y1="100.55" x2="431.44" y2="100.55" stroke="#111" stroke-width="1.2"/>
<line x1="427.84" y1="119.75" x2="431.44" y2="119.75" stroke="#111" stroke-width="1.2"/>
<line x1="443.04" y1="96.2" x2="443.04" y2="114.8" stroke="#111" stroke-width="1.2"/>
<line x1="441.24" y1="96.2" x2="444.84" y2="96.2" stroke="#111" stroke-width="1.2"/>
<line x1="441.24" y1="114.8" x2="444.84" y2="114.8" stroke="#111" stroke-width="1.2"/>
<line x1="460.91" y1="68" x2="460.91" y2="101" stroke="#111" stroke-width="1.2"/>
<line x1="459.11" y1="68" x2="462.71" y2="68" stroke="#111" stroke-width="1.2"/>
<line x1="459.11" y1="101" x2="462.71" y2="101" stroke="#111" stroke-width="1.2"/>
<line x1="474.31" y1="76.1" x2="474.31" y2="100.4" stroke="#111" stroke-width="1.2"/>
<line x1="472.51" y1="76.1" x2="476.11" y2="76.1" stroke="#111" stroke-width="1.2"/>
<line x1="472.51" y1="100.4" x2="476.11" y2="100.4" stroke="#111" stroke-width="1.2"/>
<line x1="492.18" y1="51.65" x2="492.18" y2="86.15" stroke="#111" stroke-width="1.2"/>
<line x1="490.38" y1="51.65" x2="493.98" y2="51.65" stroke="#111" stroke-width="1.2"/>
<line x1="490.38" y1="86.15" x2="493.98" y2="86.15" stroke="#111" stroke-width="1.2"/>
<circle cx="384.97" cy="128.75" r="2.1" fill="#d52b36"/>
<circle cx="429.64" cy="125.6" r="2.1" fill="#d52b36"/>
<circle cx="443.04" cy="128" r="2.1" fill="#d52b36"/>
<circle cx="460.91" cy="123.95" r="2.1" fill="#d52b36"/>
<circle cx="474.31" cy="128" r="2.1" fill="#d52b36"/>
<circle cx="492.18" cy="119" r="2.1" fill="#d52b36"/>
<rect x="382.62" y="126.4" width="4.7" height="4.7" fill="#111"/>
<rect x="427.29" y="107.8" width="4.7" height="4.7" fill="#111"/>
<rect x="440.69" y="103.15" width="4.7" height="4.7" fill="#111"/>
<rect x="458.56" y="82.15" width="4.7" height="4.7" fill="#111"/>
<rect x="471.96" y="85.9" width="4.7" height="4.7" fill="#111"/>
<rect x="489.82" y="66.55" width="4.7" height="4.7" fill="#111"/>
<line x1="385.6" y1="15.75" x2="395.5" y2="15.75" stroke="#111" stroke-width="1.0"/>
<rect x="388.27" y="13.52" width="4.46" height="4.46" fill="#111"/>
<text x="400.4" y="17.95" font-size="6.3" text-anchor="start" fill="#2a2a2a">Vehicle (polysorbate) p.o. q.d.</text>
<line x1="385.6" y1="24.25" x2="395.5" y2="24.25" stroke="#d52b36" stroke-width="1.0"/>
<circle cx="390.5" cy="24.25" r="1.99" fill="#d52b36"/>
<text x="400.4" y="26.45" font-size="6.3" text-anchor="start" fill="#2a2a2a">AZD2014 15 mg/kg p.o. q.d.</text>
<line x1="24.8" y1="338.2" x2="24.8" y2="236.7" stroke="#2a2a2a" stroke-width="1.35"/>
<line x1="24.12" y1="338.2" x2="155.5" y2="338.2" stroke="#2a2a2a" stroke-width="1.35"/>
<line x1="22.1" y1="326.7" x2="24.8" y2="326.7" stroke="#2a2a2a" stroke-width="1.35"/>
<text x="22.3" y="329.29" font-size="7.4" font-weight="bold" text-anchor="end" fill="#2a2a2a" textLength="8.85" lengthAdjust="spacingAndGlyphs">0.2</text>
<line x1="22.1" y1="304.2" x2="24.8" y2="304.2" stroke="#2a2a2a" stroke-width="1.35"/>
<text x="22.3" y="306.79" font-size="7.4" font-weight="bold" text-anchor="end" fill="#2a2a2a" textLength="8.85" lengthAdjust="spacingAndGlyphs">0.4</text>
<line x1="22.1" y1="281.7" x2="24.8" y2="281.7" stroke="#2a2a2a" stroke-width="1.35"/>
<text x="22.3" y="284.29" font-size="7.4" font-weight="bold" text-anchor="end" fill="#2a2a2a" textLength="8.85" lengthAdjust="spacingAndGlyphs">0.6</text>
<line x1="22.1" y1="259.2" x2="24.8" y2="259.2" stroke="#2a2a2a" stroke-width="1.35"/>
<text x="22.3" y="261.79" font-size="7.4" font-weight="bold" text-anchor="end" fill="#2a2a2a" textLength="8.85" lengthAdjust="spacingAndGlyphs">0.8</text>
<line x1="22.1" y1="236.7" x2="24.8" y2="236.7" stroke="#2a2a2a" stroke-width="1.35"/>
<text x="22.3" y="239.29" font-size="7.4" font-weight="bold" text-anchor="end" fill="#2a2a2a" textLength="8.85" lengthAdjust="spacingAndGlyphs">1.0</text>
<line x1="24.7" y1="338.2" x2="24.7" y2="340.9" stroke="#2a2a2a" stroke-width="1.35"/>
<text x="24.7" y="349.4" font-size="7.4" font-weight="bold" text-anchor="middle" fill="#2a2a2a" textLength="3.54" lengthAdjust="spacingAndGlyphs">0</text>
<line x1="50.8" y1="338.2" x2="50.8" y2="340.9" stroke="#2a2a2a" stroke-width="1.35"/>
<text x="50.8" y="349.4" font-size="7.4" font-weight="bold" text-anchor="middle" fill="#2a2a2a" textLength="3.54" lengthAdjust="spacingAndGlyphs">5</text>
<line x1="76.9" y1="338.2" x2="76.9" y2="340.9" stroke="#2a2a2a" stroke-width="1.35"/>
<text x="76.9" y="349.4" font-size="7.4" font-weight="bold" text-anchor="middle" fill="#2a2a2a" textLength="7.08" lengthAdjust="spacingAndGlyphs">10</text>
<line x1="103" y1="338.2" x2="103" y2="340.9" stroke="#2a2a2a" stroke-width="1.35"/>
<text x="103" y="349.4" font-size="7.4" font-weight="bold" text-anchor="middle" fill="#2a2a2a" textLength="7.08" lengthAdjust="spacingAndGlyphs">15</text>
<line x1="129.1" y1="338.2" x2="129.1" y2="340.9" stroke="#2a2a2a" stroke-width="1.35"/>
<text x="129.1" y="349.4" font-size="7.4" font-weight="bold" text-anchor="middle" fill="#2a2a2a" textLength="7.08" lengthAdjust="spacingAndGlyphs">20</text>
<line x1="155.2" y1="338.2" x2="155.2" y2="340.9" stroke="#2a2a2a" stroke-width="1.35"/>
<text x="155.2" y="349.4" font-size="7.4" font-weight="bold" text-anchor="middle" fill="#2a2a2a" textLength="7.08" lengthAdjust="spacingAndGlyphs">25</text>
<text transform="translate(8.5,286) rotate(-90)" x="0" y="0" font-size="8" font-weight="bold" text-anchor="middle" fill="#2a2a2a">Mean tumor volume (cm<tspan dy="-3" font-size="5">3</tspan><tspan dy="3">)</tspan></text>
<text x="94.2" y="360.7" font-size="7.9" font-weight="bold" text-anchor="middle" fill="#2a2a2a">Days of dosing</text>
<polyline points="29.92,323.89 45.58,324 66.46,325.69 82.12,325.01 103,326.7 118.66,325.69 139.54,329.96" fill="none" stroke="#34a04a" stroke-width="1.05" stroke-linejoin="round"/>
<polyline points="29.92,323.89 45.58,319.39 66.46,318.15 82.12,320.74 103,314.77 118.66,313.54 139.54,313.54" fill="none" stroke="#d52b36" stroke-width="1.05" stroke-linejoin="round"/>
<polyline points="29.92,323.89 45.58,317.7 66.46,313.54 82.12,313.54 103,307.57 118.66,303.64 139.54,303.64" fill="none" stroke="#111" stroke-width="1.05" stroke-linejoin="round"/>
<polyline points="29.92,323.89 45.58,317.36 66.46,311.51 82.12,303.07 103,293.74 118.66,291.04 139.54,283.95" fill="none" stroke="#4658b0" stroke-width="1.05" stroke-linejoin="round"/>
<polyline points="29.92,323.44 45.58,317.36 66.46,304.88 82.12,303.07 103,283.95 118.66,274.95 139.54,256.95" fill="none" stroke="#111" stroke-width="1.05" stroke-linejoin="round"/>
<line x1="29.92" y1="321.64" x2="29.92" y2="326.14" stroke="#34a04a" stroke-width="1.05"/>
<line x1="28.12" y1="321.64" x2="31.72" y2="321.64" stroke="#34a04a" stroke-width="1.05"/>
<line x1="28.12" y1="326.14" x2="31.72" y2="326.14" stroke="#34a04a" stroke-width="1.05"/>
<line x1="45.58" y1="321.75" x2="45.58" y2="326.25" stroke="#34a04a" stroke-width="1.05"/>
<line x1="43.78" y1="321.75" x2="47.38" y2="321.75" stroke="#34a04a" stroke-width="1.05"/>
<line x1="43.78" y1="326.25" x2="47.38" y2="326.25" stroke="#34a04a" stroke-width="1.05"/>
<line x1="66.46" y1="323.44" x2="66.46" y2="327.94" stroke="#34a04a" stroke-width="1.05"/>
<line x1="64.66" y1="323.44" x2="68.26" y2="323.44" stroke="#34a04a" stroke-width="1.05"/>
<line x1="64.66" y1="327.94" x2="68.26" y2="327.94" stroke="#34a04a" stroke-width="1.05"/>
<line x1="82.12" y1="322.2" x2="82.12" y2="327.82" stroke="#34a04a" stroke-width="1.05"/>
<line x1="80.32" y1="322.2" x2="83.92" y2="322.2" stroke="#34a04a" stroke-width="1.05"/>
<line x1="80.32" y1="327.82" x2="83.92" y2="327.82" stroke="#34a04a" stroke-width="1.05"/>
<line x1="103" y1="323.89" x2="103" y2="329.51" stroke="#34a04a" stroke-width="1.05"/>
<line x1="101.2" y1="323.89" x2="104.8" y2="323.89" stroke="#34a04a" stroke-width="1.05"/>
<line x1="101.2" y1="329.51" x2="104.8" y2="329.51" stroke="#34a04a" stroke-width="1.05"/>
<line x1="118.66" y1="322.88" x2="118.66" y2="328.5" stroke="#34a04a" stroke-width="1.05"/>
<line x1="116.86" y1="322.88" x2="120.46" y2="322.88" stroke="#34a04a" stroke-width="1.05"/>
<line x1="116.86" y1="328.5" x2="120.46" y2="328.5" stroke="#34a04a" stroke-width="1.05"/>
<line x1="139.54" y1="327.71" x2="139.54" y2="332.21" stroke="#34a04a" stroke-width="1.05"/>
<line x1="137.74" y1="327.71" x2="141.34" y2="327.71" stroke="#34a04a" stroke-width="1.05"/>
<line x1="137.74" y1="332.21" x2="141.34" y2="332.21" stroke="#34a04a" stroke-width="1.05"/>
<line x1="29.92" y1="321.64" x2="29.92" y2="326.14" stroke="#d52b36" stroke-width="1.05"/>
<line x1="28.12" y1="321.64" x2="31.72" y2="321.64" stroke="#d52b36" stroke-width="1.05"/>
<line x1="28.12" y1="326.14" x2="31.72" y2="326.14" stroke="#d52b36" stroke-width="1.05"/>
<line x1="45.58" y1="317.14" x2="45.58" y2="321.64" stroke="#d52b36" stroke-width="1.05"/>
<line x1="43.78" y1="317.14" x2="47.38" y2="317.14" stroke="#d52b36" stroke-width="1.05"/>
<line x1="43.78" y1="321.64" x2="47.38" y2="321.64" stroke="#d52b36" stroke-width="1.05"/>
<line x1="66.46" y1="315.34" x2="66.46" y2="320.96" stroke="#d52b36" stroke-width="1.05"/>
<line x1="64.66" y1="315.34" x2="68.26" y2="315.34" stroke="#d52b36" stroke-width="1.05"/>
<line x1="64.66" y1="320.96" x2="68.26" y2="320.96" stroke="#d52b36" stroke-width="1.05"/>
<line x1="82.12" y1="317.93" x2="82.12" y2="323.55" stroke="#d52b36" stroke-width="1.05"/>
<line x1="80.32" y1="317.93" x2="83.92" y2="317.93" stroke="#d52b36" stroke-width="1.05"/>
<line x1="80.32" y1="323.55" x2="83.92" y2="323.55" stroke="#d52b36" stroke-width="1.05"/>
<line x1="103" y1="311.4" x2="103" y2="318.15" stroke="#d52b36" stroke-width="1.05"/>
<line x1="101.2" y1="311.4" x2="104.8" y2="311.4" stroke="#d52b36" stroke-width="1.05"/>
<line x1="101.2" y1="318.15" x2="104.8" y2="318.15" stroke="#d52b36" stroke-width="1.05"/>
<line x1="118.66" y1="310.16" x2="118.66" y2="316.91" stroke="#d52b36" stroke-width="1.05"/>
<line x1="116.86" y1="310.16" x2="120.46" y2="310.16" stroke="#d52b36" stroke-width="1.05"/>
<line x1="116.86" y1="316.91" x2="120.46" y2="316.91" stroke="#d52b36" stroke-width="1.05"/>
<line x1="139.54" y1="309.6" x2="139.54" y2="317.47" stroke="#d52b36" stroke-width="1.05"/>
<line x1="137.74" y1="309.6" x2="141.34" y2="309.6" stroke="#d52b36" stroke-width="1.05"/>
<line x1="137.74" y1="317.47" x2="141.34" y2="317.47" stroke="#d52b36" stroke-width="1.05"/>
<line x1="29.92" y1="320.51" x2="29.92" y2="327.26" stroke="#111" stroke-width="1.05"/>
<line x1="28.12" y1="320.51" x2="31.72" y2="320.51" stroke="#111" stroke-width="1.05"/>
<line x1="28.12" y1="327.26" x2="31.72" y2="327.26" stroke="#111" stroke-width="1.05"/>
<line x1="45.58" y1="313.76" x2="45.58" y2="321.64" stroke="#111" stroke-width="1.05"/>
<line x1="43.78" y1="313.76" x2="47.38" y2="313.76" stroke="#111" stroke-width="1.05"/>
<line x1="43.78" y1="321.64" x2="47.38" y2="321.64" stroke="#111" stroke-width="1.05"/>
<line x1="66.46" y1="309.04" x2="66.46" y2="318.04" stroke="#111" stroke-width="1.05"/>
<line x1="64.66" y1="309.04" x2="68.26" y2="309.04" stroke="#111" stroke-width="1.05"/>
<line x1="64.66" y1="318.04" x2="68.26" y2="318.04" stroke="#111" stroke-width="1.05"/>
<line x1="82.12" y1="308.47" x2="82.12" y2="318.6" stroke="#111" stroke-width="1.05"/>
<line x1="80.32" y1="308.47" x2="83.92" y2="308.47" stroke="#111" stroke-width="1.05"/>
<line x1="80.32" y1="318.6" x2="83.92" y2="318.6" stroke="#111" stroke-width="1.05"/>
<line x1="103" y1="301.95" x2="103" y2="313.2" stroke="#111" stroke-width="1.05"/>
<line x1="101.2" y1="301.95" x2="104.8" y2="301.95" stroke="#111" stroke-width="1.05"/>
<line x1="101.2" y1="313.2" x2="104.8" y2="313.2" stroke="#111" stroke-width="1.05"/>
<line x1="118.66" y1="296.89" x2="118.66" y2="310.39" stroke="#111" stroke-width="1.05"/>
<line x1="116.86" y1="296.89" x2="120.46" y2="296.89" stroke="#111" stroke-width="1.05"/>
<line x1="116.86" y1="310.39" x2="120.46" y2="310.39" stroke="#111" stroke-width="1.05"/>
<line x1="139.54" y1="296.32" x2="139.54" y2="310.95" stroke="#111" stroke-width="1.05"/>
<line x1="137.74" y1="296.32" x2="141.34" y2="296.32" stroke="#111" stroke-width="1.05"/>
<line x1="137.74" y1="310.95" x2="141.34" y2="310.95" stroke="#111" stroke-width="1.05"/>
<line x1="29.92" y1="318.26" x2="29.92" y2="329.51" stroke="#4658b0" stroke-width="1.05"/>
<line x1="28.12" y1="318.26" x2="31.72" y2="318.26" stroke="#4658b0" stroke-width="1.05"/>
<line x1="28.12" y1="329.51" x2="31.72" y2="329.51" stroke="#4658b0" stroke-width="1.05"/>
<line x1="45.58" y1="310.05" x2="45.58" y2="324.68" stroke="#4658b0" stroke-width="1.05"/>
<line x1="43.78" y1="310.05" x2="47.38" y2="310.05" stroke="#4658b0" stroke-width="1.05"/>
<line x1="43.78" y1="324.68" x2="47.38" y2="324.68" stroke="#4658b0" stroke-width="1.05"/>
<line x1="66.46" y1="302.51" x2="66.46" y2="320.51" stroke="#4658b0" stroke-width="1.05"/>
<line x1="64.66" y1="302.51" x2="68.26" y2="302.51" stroke="#4658b0" stroke-width="1.05"/>
<line x1="64.66" y1="320.51" x2="68.26" y2="320.51" stroke="#4658b0" stroke-width="1.05"/>
<line x1="82.12" y1="292.95" x2="82.12" y2="313.2" stroke="#4658b0" stroke-width="1.05"/>
<line x1="80.32" y1="292.95" x2="83.92" y2="292.95" stroke="#4658b0" stroke-width="1.05"/>
<line x1="80.32" y1="313.2" x2="83.92" y2="313.2" stroke="#4658b0" stroke-width="1.05"/>
<line x1="103" y1="282.49" x2="103" y2="304.99" stroke="#4658b0" stroke-width="1.05"/>
<line x1="101.2" y1="282.49" x2="104.8" y2="282.49" stroke="#4658b0" stroke-width="1.05"/>
<line x1="101.2" y1="304.99" x2="104.8" y2="304.99" stroke="#4658b0" stroke-width="1.05"/>
<line x1="118.66" y1="279.79" x2="118.66" y2="302.29" stroke="#4658b0" stroke-width="1.05"/>
<line x1="116.86" y1="279.79" x2="120.46" y2="279.79" stroke="#4658b0" stroke-width="1.05"/>
<line x1="116.86" y1="302.29" x2="120.46" y2="302.29" stroke="#4658b0" stroke-width="1.05"/>
<line x1="139.54" y1="271.57" x2="139.54" y2="296.32" stroke="#4658b0" stroke-width="1.05"/>
<line x1="137.74" y1="271.57" x2="141.34" y2="271.57" stroke="#4658b0" stroke-width="1.05"/>
<line x1="137.74" y1="296.32" x2="141.34" y2="296.32" stroke="#4658b0" stroke-width="1.05"/>
<line x1="29.92" y1="320.06" x2="29.92" y2="326.81" stroke="#111" stroke-width="1.05"/>
<line x1="28.12" y1="320.06" x2="31.72" y2="320.06" stroke="#111" stroke-width="1.05"/>
<line x1="28.12" y1="326.81" x2="31.72" y2="326.81" stroke="#111" stroke-width="1.05"/>
<line x1="45.58" y1="312.86" x2="45.58" y2="321.86" stroke="#111" stroke-width="1.05"/>
<line x1="43.78" y1="312.86" x2="47.38" y2="312.86" stroke="#111" stroke-width="1.05"/>
<line x1="43.78" y1="321.86" x2="47.38" y2="321.86" stroke="#111" stroke-width="1.05"/>
<line x1="66.46" y1="300.38" x2="66.46" y2="309.38" stroke="#111" stroke-width="1.05"/>
<line x1="64.66" y1="300.38" x2="68.26" y2="300.38" stroke="#111" stroke-width="1.05"/>
<line x1="64.66" y1="309.38" x2="68.26" y2="309.38" stroke="#111" stroke-width="1.05"/>
<line x1="82.12" y1="297.45" x2="82.12" y2="308.7" stroke="#111" stroke-width="1.05"/>
<line x1="80.32" y1="297.45" x2="83.92" y2="297.45" stroke="#111" stroke-width="1.05"/>
<line x1="80.32" y1="308.7" x2="83.92" y2="308.7" stroke="#111" stroke-width="1.05"/>
<line x1="103" y1="276.64" x2="103" y2="291.26" stroke="#111" stroke-width="1.05"/>
<line x1="101.2" y1="276.64" x2="104.8" y2="276.64" stroke="#111" stroke-width="1.05"/>
<line x1="101.2" y1="291.26" x2="104.8" y2="291.26" stroke="#111" stroke-width="1.05"/>
<line x1="118.66" y1="267.3" x2="118.66" y2="282.6" stroke="#111" stroke-width="1.05"/>
<line x1="116.86" y1="267.3" x2="120.46" y2="267.3" stroke="#111" stroke-width="1.05"/>
<line x1="116.86" y1="282.6" x2="120.46" y2="282.6" stroke="#111" stroke-width="1.05"/>
<line x1="139.54" y1="247.39" x2="139.54" y2="266.51" stroke="#111" stroke-width="1.05"/>
<line x1="137.74" y1="247.39" x2="141.34" y2="247.39" stroke="#111" stroke-width="1.05"/>
<line x1="137.74" y1="266.51" x2="141.34" y2="266.51" stroke="#111" stroke-width="1.05"/>
<path d="M29.92 326.05L32.08 322.16L27.76 322.16Z" fill="#34a04a"/>
<path d="M45.58 326.16L47.74 322.27L43.42 322.27Z" fill="#34a04a"/>
<path d="M66.46 327.85L68.62 323.96L64.3 323.96Z" fill="#34a04a"/>
<path d="M82.12 327.17L84.28 323.28L79.96 323.28Z" fill="#34a04a"/>
<path d="M103 328.86L105.16 324.97L100.84 324.97Z" fill="#34a04a"/>
<path d="M118.66 327.85L120.82 323.96L116.5 323.96Z" fill="#34a04a"/>
<path d="M139.54 332.12L141.7 328.23L137.38 328.23Z" fill="#34a04a"/>
<rect x="27.8" y="321.77" width="4.23" height="4.23" fill="#d52b36"/>
<rect x="43.46" y="317.27" width="4.23" height="4.23" fill="#d52b36"/>
<rect x="64.34" y="316.03" width="4.23" height="4.23" fill="#d52b36"/>
<rect x="80" y="318.62" width="4.23" height="4.23" fill="#d52b36"/>
<rect x="100.89" y="312.66" width="4.23" height="4.23" fill="#d52b36"/>
<rect x="116.55" y="311.42" width="4.23" height="4.23" fill="#d52b36"/>
<rect x="137.42" y="311.42" width="4.23" height="4.23" fill="#d52b36"/>
<path d="M29.92 321.91L31.9 325.47L27.94 325.47Z" fill="#fff" stroke="#111" stroke-width="1.1"/>
<path d="M45.58 315.72L47.56 319.28L43.6 319.28Z" fill="#fff" stroke="#111" stroke-width="1.1"/>
<path d="M66.46 311.56L68.44 315.12L64.48 315.12Z" fill="#fff" stroke="#111" stroke-width="1.1"/>
<path d="M82.12 311.56L84.1 315.12L80.14 315.12Z" fill="#fff" stroke="#111" stroke-width="1.1"/>
<path d="M103 305.59L104.98 309.16L101.02 309.16Z" fill="#fff" stroke="#111" stroke-width="1.1"/>
<path d="M118.66 301.66L120.64 305.22L116.68 305.22Z" fill="#fff" stroke="#111" stroke-width="1.1"/>
<path d="M139.54 301.66L141.52 305.22L137.56 305.22Z" fill="#fff" stroke="#111" stroke-width="1.1"/>
<path d="M27.94 321.91L31.9 325.87M31.9 321.91L27.94 325.87M29.92 321.71L29.92 326.07" stroke="#4658b0" stroke-width="1.3" fill="none"/>
<path d="M43.6 315.38L47.56 319.34M47.56 315.38L43.6 319.34M45.58 315.18L45.58 319.54" stroke="#4658b0" stroke-width="1.3" fill="none"/>
<path d="M64.48 309.53L68.44 313.49M68.44 309.53L64.48 313.49M66.46 309.33L66.46 313.69" stroke="#4658b0" stroke-width="1.3" fill="none"/>
<path d="M80.14 301.09L84.1 305.06M84.1 301.09L80.14 305.06M82.12 300.9L82.12 305.25" stroke="#4658b0" stroke-width="1.3" fill="none"/>
<path d="M101.02 291.76L104.98 295.72M104.98 291.76L101.02 295.72M103 291.56L103 295.92" stroke="#4658b0" stroke-width="1.3" fill="none"/>
<path d="M116.68 289.06L120.64 293.02M120.64 289.06L116.68 293.02M118.66 288.86L118.66 293.22" stroke="#4658b0" stroke-width="1.3" fill="none"/>
<path d="M137.56 281.97L141.52 285.93M141.52 281.97L137.56 285.93M139.54 281.77L139.54 286.13" stroke="#4658b0" stroke-width="1.3" fill="none"/>
<rect x="27.8" y="321.32" width="4.23" height="4.23" fill="#111"/>
<rect x="43.46" y="315.25" width="4.23" height="4.23" fill="#111"/>
<rect x="64.34" y="302.76" width="4.23" height="4.23" fill="#111"/>
<rect x="80" y="300.96" width="4.23" height="4.23" fill="#111"/>
<rect x="100.89" y="281.83" width="4.23" height="4.23" fill="#111"/>
<rect x="116.55" y="272.83" width="4.23" height="4.23" fill="#111"/>
<rect x="137.42" y="254.83" width="4.23" height="4.23" fill="#111"/>
<line x1="31.5" y1="197.2" x2="40.6" y2="197.2" stroke="#111" stroke-width="1.0"/>
<rect x="34.27" y="195.27" width="3.85" height="3.85" fill="#111"/>
<text x="45.4" y="199.51" font-size="6.6" text-anchor="start" fill="#2a2a2a" textLength="80.33" lengthAdjust="spacingAndGlyphs">Vehicle (polysorbate) p.o. q.d.</text>
<line x1="31.5" y1="206.6" x2="40.6" y2="206.6" stroke="#4658b0" stroke-width="1.0"/>
<path d="M34.4 204.8L38 208.4M38 204.8L34.4 208.4M36.2 204.62L36.2 208.58" stroke="#4658b0" stroke-width="1.3" fill="none"/>
<text x="45.4" y="208.91" font-size="6.6" text-anchor="start" fill="#2a2a2a" textLength="105.12" lengthAdjust="spacingAndGlyphs">Fulvestrant 5 mg/mouse s.c. ×3 weekly</text>
<line x1="31.5" y1="215.7" x2="40.6" y2="215.7" stroke="#111" stroke-width="1.0"/>
<path d="M36.2 213.9L38 217.14L34.4 217.14Z" fill="#fff" stroke="#111" stroke-width="1.1"/>
<text x="45.4" y="218.01" font-size="6.6" text-anchor="start" fill="#2a2a2a" textLength="104.19" lengthAdjust="spacingAndGlyphs">Tamoxifen 4 mg/kg p.o. 5 days on/2 off</text>
<line x1="31.5" y1="224.4" x2="40.6" y2="224.4" stroke="#d52b36" stroke-width="1.0"/>
<circle cx="36.2" cy="224.4" r="1.72" fill="#d52b36"/>
<text x="45.4" y="226.71" font-size="6.6" text-anchor="start" fill="#2a2a2a" textLength="75.95" lengthAdjust="spacingAndGlyphs">AZD2014 15 mg/kg p.o. q.d.</text>
<line x1="31.5" y1="232.6" x2="40.6" y2="232.6" stroke="#34a04a" stroke-width="1.0"/>
<path d="M36.2 230.63L38.17 234.17L34.23 234.17Z" fill="#34a04a"/>
<text x="45.4" y="234.91" font-size="6.6" text-anchor="start" fill="#2a2a2a" textLength="60.58" lengthAdjust="spacingAndGlyphs">AZD2014 + fulvestrant</text>
<line x1="189.8" y1="337.4" x2="189.8" y2="229.3" stroke="#2a2a2a" stroke-width="1.35"/>
<line x1="189.12" y1="337.4" x2="341" y2="337.4" stroke="#2a2a2a" stroke-width="1.35"/>
<line x1="187.1" y1="310.6" x2="189.8" y2="310.6" stroke="#2a2a2a" stroke-width="1.35"/>
<text x="185.1" y="313.19" font-size="7.4" font-weight="bold" text-anchor="end" fill="#2a2a2a">0.2</text>
<line x1="187.1" y1="283.8" x2="189.8" y2="283.8" stroke="#2a2a2a" stroke-width="1.35"/>
<text x="185.1" y="286.39" font-size="7.4" font-weight="bold" text-anchor="end" fill="#2a2a2a">0.3</text>
<line x1="187.1" y1="257" x2="189.8" y2="257" stroke="#2a2a2a" stroke-width="1.35"/>
<text x="185.1" y="259.59" font-size="7.4" font-weight="bold" text-anchor="end" fill="#2a2a2a">0.4</text>
<line x1="187.1" y1="230.2" x2="189.8" y2="230.2" stroke="#2a2a2a" stroke-width="1.35"/>
<text x="185.1" y="232.79" font-size="7.4" font-weight="bold" text-anchor="end" fill="#2a2a2a">0.5</text>
<line x1="196.6" y1="337.4" x2="196.6" y2="340.1" stroke="#2a2a2a" stroke-width="1.35"/>
<text x="196.6" y="349.6" font-size="7.4" font-weight="bold" text-anchor="middle" fill="#2a2a2a">0</text>
<line x1="232.6" y1="337.4" x2="232.6" y2="340.1" stroke="#2a2a2a" stroke-width="1.35"/>
<text x="232.6" y="349.6" font-size="7.4" font-weight="bold" text-anchor="middle" fill="#2a2a2a">10</text>
<line x1="268.6" y1="337.4" x2="268.6" y2="340.1" stroke="#2a2a2a" stroke-width="1.35"/>
<text x="268.6" y="349.6" font-size="7.4" font-weight="bold" text-anchor="middle" fill="#2a2a2a">20</text>
<line x1="304.6" y1="337.4" x2="304.6" y2="340.1" stroke="#2a2a2a" stroke-width="1.35"/>
<text x="304.6" y="349.6" font-size="7.4" font-weight="bold" text-anchor="middle" fill="#2a2a2a">30</text>
<line x1="340.6" y1="337.4" x2="340.6" y2="340.1" stroke="#2a2a2a" stroke-width="1.35"/>
<text x="340.6" y="349.6" font-size="7.4" font-weight="bold" text-anchor="middle" fill="#2a2a2a">40</text>
<text transform="translate(167.4,285.5) rotate(-90)" x="0" y="0" font-size="8" font-weight="bold" text-anchor="middle" fill="#2a2a2a">Mean tumor volume (cm<tspan dy="-3" font-size="5">3</tspan><tspan dy="3">)</tspan></text>
<text x="267.6" y="360.7" font-size="7.9" font-weight="bold" text-anchor="middle" fill="#2a2a2a">Days of dosing</text>
<polyline points="196.6,330.7 211,331.5 221.8,332.04 236.2,327.48 247,325.88 261.4,323.46 272.2,320.78 286.6,302.56 297.4,302.56 311.8,301.76 319,301.76" fill="none" stroke="#34a04a" stroke-width="1.25" stroke-linejoin="round"/>
<polyline points="196.6,330.7 211,331.5 221.8,331.5 236.2,324.27 247,320.78 261.4,320.78 272.2,317.57 286.6,306.04 297.4,311.67 311.8,309.26 319,304.17" fill="none" stroke="#d52b36" stroke-width="1.25" stroke-linejoin="round"/>
<polyline points="196.6,330.7 211,317.57 221.8,312.48 236.2,311.67 247,309.26 261.4,310.6 272.2,298.54 286.6,278.44 297.4,284.6 311.8,277.9 319,273.88" fill="none" stroke="#2f3f96" stroke-width="1.25" stroke-linejoin="round"/>
<polyline points="196.6,330.7 211,323.46 221.8,312.48 236.2,306.04 247,299.34 261.4,294.52 272.2,281.12 286.6,259.68 297.4,255.66 311.8,245.48 319,254.86" fill="none" stroke="#111" stroke-width="1.25" stroke-linejoin="round"/>
<line x1="196.6" y1="328.02" x2="196.6" y2="333.38" stroke="#34a04a" stroke-width="1.2"/>
<line x1="194.8" y1="328.02" x2="198.4" y2="328.02" stroke="#34a04a" stroke-width="1.2"/>
<line x1="194.8" y1="333.38" x2="198.4" y2="333.38" stroke="#34a04a" stroke-width="1.2"/>
<line x1="211" y1="328.29" x2="211" y2="334.72" stroke="#34a04a" stroke-width="1.2"/>
<line x1="209.2" y1="328.29" x2="212.8" y2="328.29" stroke="#34a04a" stroke-width="1.2"/>
<line x1="209.2" y1="334.72" x2="212.8" y2="334.72" stroke="#34a04a" stroke-width="1.2"/>
<line x1="221.8" y1="328.82" x2="221.8" y2="335.26" stroke="#34a04a" stroke-width="1.2"/>
<line x1="220" y1="328.82" x2="223.6" y2="328.82" stroke="#34a04a" stroke-width="1.2"/>
<line x1="220" y1="335.26" x2="223.6" y2="335.26" stroke="#34a04a" stroke-width="1.2"/>
<line x1="236.2" y1="322.12" x2="236.2" y2="332.84" stroke="#34a04a" stroke-width="1.2"/>
<line x1="234.4" y1="322.12" x2="238" y2="322.12" stroke="#34a04a" stroke-width="1.2"/>
<line x1="234.4" y1="332.84" x2="238" y2="332.84" stroke="#34a04a" stroke-width="1.2"/>
<line x1="247" y1="319.18" x2="247" y2="332.58" stroke="#34a04a" stroke-width="1.2"/>
<line x1="245.2" y1="319.18" x2="248.8" y2="319.18" stroke="#34a04a" stroke-width="1.2"/>
<line x1="245.2" y1="332.58" x2="248.8" y2="332.58" stroke="#34a04a" stroke-width="1.2"/>
<line x1="261.4" y1="315.42" x2="261.4" y2="331.5" stroke="#34a04a" stroke-width="1.2"/>
<line x1="259.6" y1="315.42" x2="263.2" y2="315.42" stroke="#34a04a" stroke-width="1.2"/>
<line x1="259.6" y1="331.5" x2="263.2" y2="331.5" stroke="#34a04a" stroke-width="1.2"/>
<line x1="272.2" y1="314.08" x2="272.2" y2="327.48" stroke="#34a04a" stroke-width="1.2"/>
<line x1="270.4" y1="314.08" x2="274" y2="314.08" stroke="#34a04a" stroke-width="1.2"/>
<line x1="270.4" y1="327.48" x2="274" y2="327.48" stroke="#34a04a" stroke-width="1.2"/>
<line x1="286.6" y1="295.86" x2="286.6" y2="309.26" stroke="#34a04a" stroke-width="1.2"/>
<line x1="284.8" y1="295.86" x2="288.4" y2="295.86" stroke="#34a04a" stroke-width="1.2"/>
<line x1="284.8" y1="309.26" x2="288.4" y2="309.26" stroke="#34a04a" stroke-width="1.2"/>
<line x1="297.4" y1="293.18" x2="297.4" y2="311.94" stroke="#34a04a" stroke-width="1.2"/>
<line x1="295.6" y1="293.18" x2="299.2" y2="293.18" stroke="#34a04a" stroke-width="1.2"/>
<line x1="295.6" y1="311.94" x2="299.2" y2="311.94" stroke="#34a04a" stroke-width="1.2"/>
<line x1="311.8" y1="291.04" x2="311.8" y2="312.48" stroke="#34a04a" stroke-width="1.2"/>
<line x1="310" y1="291.04" x2="313.6" y2="291.04" stroke="#34a04a" stroke-width="1.2"/>
<line x1="310" y1="312.48" x2="313.6" y2="312.48" stroke="#34a04a" stroke-width="1.2"/>
<line x1="319" y1="291.04" x2="319" y2="312.48" stroke="#34a04a" stroke-width="1.2"/>
<line x1="317.2" y1="291.04" x2="320.8" y2="291.04" stroke="#34a04a" stroke-width="1.2"/>
<line x1="317.2" y1="312.48" x2="320.8" y2="312.48" stroke="#34a04a" stroke-width="1.2"/>
<line x1="196.6" y1="328.02" x2="196.6" y2="333.38" stroke="#d52b36" stroke-width="1.2"/>
<line x1="194.8" y1="328.02" x2="198.4" y2="328.02" stroke="#d52b36" stroke-width="1.2"/>
<line x1="194.8" y1="333.38" x2="198.4" y2="333.38" stroke="#d52b36" stroke-width="1.2"/>
<line x1="211" y1="328.82" x2="211" y2="334.18" stroke="#d52b36" stroke-width="1.2"/>
<line x1="209.2" y1="328.82" x2="212.8" y2="328.82" stroke="#d52b36" stroke-width="1.2"/>
<line x1="209.2" y1="334.18" x2="212.8" y2="334.18" stroke="#d52b36" stroke-width="1.2"/>
<line x1="221.8" y1="328.82" x2="221.8" y2="334.18" stroke="#d52b36" stroke-width="1.2"/>
<line x1="220" y1="328.82" x2="223.6" y2="328.82" stroke="#d52b36" stroke-width="1.2"/>
<line x1="220" y1="334.18" x2="223.6" y2="334.18" stroke="#d52b36" stroke-width="1.2"/>
<line x1="236.2" y1="320.25" x2="236.2" y2="328.29" stroke="#d52b36" stroke-width="1.2"/>
<line x1="234.4" y1="320.25" x2="238" y2="320.25" stroke="#d52b36" stroke-width="1.2"/>
<line x1="234.4" y1="328.29" x2="238" y2="328.29" stroke="#d52b36" stroke-width="1.2"/>
<line x1="247" y1="315.42" x2="247" y2="326.14" stroke="#d52b36" stroke-width="1.2"/>
<line x1="245.2" y1="315.42" x2="248.8" y2="315.42" stroke="#d52b36" stroke-width="1.2"/>
<line x1="245.2" y1="326.14" x2="248.8" y2="326.14" stroke="#d52b36" stroke-width="1.2"/>
<line x1="261.4" y1="315.42" x2="261.4" y2="326.14" stroke="#d52b36" stroke-width="1.2"/>
<line x1="259.6" y1="315.42" x2="263.2" y2="315.42" stroke="#d52b36" stroke-width="1.2"/>
<line x1="259.6" y1="326.14" x2="263.2" y2="326.14" stroke="#d52b36" stroke-width="1.2"/>
<line x1="272.2" y1="312.21" x2="272.2" y2="322.93" stroke="#d52b36" stroke-width="1.2"/>
<line x1="270.4" y1="312.21" x2="274" y2="312.21" stroke="#d52b36" stroke-width="1.2"/>
<line x1="270.4" y1="322.93" x2="274" y2="322.93" stroke="#d52b36" stroke-width="1.2"/>
<line x1="286.6" y1="300.68" x2="286.6" y2="311.4" stroke="#d52b36" stroke-width="1.2"/>
<line x1="284.8" y1="300.68" x2="288.4" y2="300.68" stroke="#d52b36" stroke-width="1.2"/>
<line x1="284.8" y1="311.4" x2="288.4" y2="311.4" stroke="#d52b36" stroke-width="1.2"/>
<line x1="297.4" y1="306.31" x2="297.4" y2="317.03" stroke="#d52b36" stroke-width="1.2"/>
<line x1="295.6" y1="306.31" x2="299.2" y2="306.31" stroke="#d52b36" stroke-width="1.2"/>
<line x1="295.6" y1="317.03" x2="299.2" y2="317.03" stroke="#d52b36" stroke-width="1.2"/>
<line x1="311.8" y1="302.56" x2="311.8" y2="315.96" stroke="#d52b36" stroke-width="1.2"/>
<line x1="310" y1="302.56" x2="313.6" y2="302.56" stroke="#d52b36" stroke-width="1.2"/>
<line x1="310" y1="315.96" x2="313.6" y2="315.96" stroke="#d52b36" stroke-width="1.2"/>
<line x1="319" y1="297.47" x2="319" y2="310.87" stroke="#d52b36" stroke-width="1.2"/>
<line x1="317.2" y1="297.47" x2="320.8" y2="297.47" stroke="#d52b36" stroke-width="1.2"/>
<line x1="317.2" y1="310.87" x2="320.8" y2="310.87" stroke="#d52b36" stroke-width="1.2"/>
<line x1="196.6" y1="328.02" x2="196.6" y2="333.38" stroke="#2f3f96" stroke-width="1.2"/>
<line x1="194.8" y1="328.02" x2="198.4" y2="328.02" stroke="#2f3f96" stroke-width="1.2"/>
<line x1="194.8" y1="333.38" x2="198.4" y2="333.38" stroke="#2f3f96" stroke-width="1.2"/>
<line x1="211" y1="311.4" x2="211" y2="323.73" stroke="#2f3f96" stroke-width="1.2"/>
<line x1="209.2" y1="311.4" x2="212.8" y2="311.4" stroke="#2f3f96" stroke-width="1.2"/>
<line x1="209.2" y1="323.73" x2="212.8" y2="323.73" stroke="#2f3f96" stroke-width="1.2"/>
<line x1="221.8" y1="307.12" x2="221.8" y2="317.84" stroke="#2f3f96" stroke-width="1.2"/>
<line x1="220" y1="307.12" x2="223.6" y2="307.12" stroke="#2f3f96" stroke-width="1.2"/>
<line x1="220" y1="317.84" x2="223.6" y2="317.84" stroke="#2f3f96" stroke-width="1.2"/>
<line x1="236.2" y1="306.31" x2="236.2" y2="317.03" stroke="#2f3f96" stroke-width="1.2"/>
<line x1="234.4" y1="306.31" x2="238" y2="306.31" stroke="#2f3f96" stroke-width="1.2"/>
<line x1="234.4" y1="317.03" x2="238" y2="317.03" stroke="#2f3f96" stroke-width="1.2"/>
<line x1="247" y1="303.9" x2="247" y2="314.62" stroke="#2f3f96" stroke-width="1.2"/>
<line x1="245.2" y1="303.9" x2="248.8" y2="303.9" stroke="#2f3f96" stroke-width="1.2"/>
<line x1="245.2" y1="314.62" x2="248.8" y2="314.62" stroke="#2f3f96" stroke-width="1.2"/>
<line x1="261.4" y1="305.24" x2="261.4" y2="315.96" stroke="#2f3f96" stroke-width="1.2"/>
<line x1="259.6" y1="305.24" x2="263.2" y2="305.24" stroke="#2f3f96" stroke-width="1.2"/>
<line x1="259.6" y1="315.96" x2="263.2" y2="315.96" stroke="#2f3f96" stroke-width="1.2"/>
<line x1="272.2" y1="289.16" x2="272.2" y2="307.92" stroke="#2f3f96" stroke-width="1.2"/>
<line x1="270.4" y1="289.16" x2="274" y2="289.16" stroke="#2f3f96" stroke-width="1.2"/>
<line x1="270.4" y1="307.92" x2="274" y2="307.92" stroke="#2f3f96" stroke-width="1.2"/>
<line x1="286.6" y1="267.18" x2="286.6" y2="289.7" stroke="#2f3f96" stroke-width="1.2"/>
<line x1="284.8" y1="267.18" x2="288.4" y2="267.18" stroke="#2f3f96" stroke-width="1.2"/>
<line x1="284.8" y1="289.7" x2="288.4" y2="289.7" stroke="#2f3f96" stroke-width="1.2"/>
<line x1="297.4" y1="273.88" x2="297.4" y2="295.32" stroke="#2f3f96" stroke-width="1.2"/>
<line x1="295.6" y1="273.88" x2="299.2" y2="273.88" stroke="#2f3f96" stroke-width="1.2"/>
<line x1="295.6" y1="295.32" x2="299.2" y2="295.32" stroke="#2f3f96" stroke-width="1.2"/>
<line x1="311.8" y1="266.38" x2="311.8" y2="289.43" stroke="#2f3f96" stroke-width="1.2"/>
<line x1="310" y1="266.38" x2="313.6" y2="266.38" stroke="#2f3f96" stroke-width="1.2"/>
<line x1="310" y1="289.43" x2="313.6" y2="289.43" stroke="#2f3f96" stroke-width="1.2"/>
<line x1="319" y1="263.97" x2="319" y2="283.8" stroke="#2f3f96" stroke-width="1.2"/>
<line x1="317.2" y1="263.97" x2="320.8" y2="263.97" stroke="#2f3f96" stroke-width="1.2"/>
<line x1="317.2" y1="283.8" x2="320.8" y2="283.8" stroke="#2f3f96" stroke-width="1.2"/>
<line x1="196.6" y1="328.02" x2="196.6" y2="333.38" stroke="#111" stroke-width="1.2"/>
<line x1="194.8" y1="328.02" x2="198.4" y2="328.02" stroke="#111" stroke-width="1.2"/>
<line x1="194.8" y1="333.38" x2="198.4" y2="333.38" stroke="#111" stroke-width="1.2"/>
<line x1="211" y1="319.44" x2="211" y2="327.48" stroke="#111" stroke-width="1.2"/>
<line x1="209.2" y1="319.44" x2="212.8" y2="319.44" stroke="#111" stroke-width="1.2"/>
<line x1="209.2" y1="327.48" x2="212.8" y2="327.48" stroke="#111" stroke-width="1.2"/>
<line x1="221.8" y1="307.12" x2="221.8" y2="317.84" stroke="#111" stroke-width="1.2"/>
<line x1="220" y1="307.12" x2="223.6" y2="307.12" stroke="#111" stroke-width="1.2"/>
<line x1="220" y1="317.84" x2="223.6" y2="317.84" stroke="#111" stroke-width="1.2"/>
<line x1="236.2" y1="300.68" x2="236.2" y2="311.4" stroke="#111" stroke-width="1.2"/>
<line x1="234.4" y1="300.68" x2="238" y2="300.68" stroke="#111" stroke-width="1.2"/>
<line x1="234.4" y1="311.4" x2="238" y2="311.4" stroke="#111" stroke-width="1.2"/>
<line x1="247" y1="293.98" x2="247" y2="304.7" stroke="#111" stroke-width="1.2"/>
<line x1="245.2" y1="293.98" x2="248.8" y2="293.98" stroke="#111" stroke-width="1.2"/>
<line x1="245.2" y1="304.7" x2="248.8" y2="304.7" stroke="#111" stroke-width="1.2"/>
<line x1="261.4" y1="287.82" x2="261.4" y2="301.22" stroke="#111" stroke-width="1.2"/>
<line x1="259.6" y1="287.82" x2="263.2" y2="287.82" stroke="#111" stroke-width="1.2"/>
<line x1="259.6" y1="301.22" x2="263.2" y2="301.22" stroke="#111" stroke-width="1.2"/>
<line x1="272.2" y1="274.42" x2="272.2" y2="287.82" stroke="#111" stroke-width="1.2"/>
<line x1="270.4" y1="274.42" x2="274" y2="274.42" stroke="#111" stroke-width="1.2"/>
<line x1="270.4" y1="287.82" x2="274" y2="287.82" stroke="#111" stroke-width="1.2"/>
<line x1="286.6" y1="248.96" x2="286.6" y2="270.4" stroke="#111" stroke-width="1.2"/>
<line x1="284.8" y1="248.96" x2="288.4" y2="248.96" stroke="#111" stroke-width="1.2"/>
<line x1="284.8" y1="270.4" x2="288.4" y2="270.4" stroke="#111" stroke-width="1.2"/>
<line x1="297.4" y1="244.4" x2="297.4" y2="266.92" stroke="#111" stroke-width="1.2"/>
<line x1="295.6" y1="244.4" x2="299.2" y2="244.4" stroke="#111" stroke-width="1.2"/>
<line x1="295.6" y1="266.92" x2="299.2" y2="266.92" stroke="#111" stroke-width="1.2"/>
<line x1="311.8" y1="232.61" x2="311.8" y2="258.34" stroke="#111" stroke-width="1.2"/>
<line x1="310" y1="232.61" x2="313.6" y2="232.61" stroke="#111" stroke-width="1.2"/>
<line x1="310" y1="258.34" x2="313.6" y2="258.34" stroke="#111" stroke-width="1.2"/>
<line x1="319" y1="237.97" x2="319" y2="271.74" stroke="#111" stroke-width="1.2"/>
<line x1="317.2" y1="237.97" x2="320.8" y2="237.97" stroke="#111" stroke-width="1.2"/>
<line x1="317.2" y1="271.74" x2="320.8" y2="271.74" stroke="#111" stroke-width="1.2"/>
<path d="M196.6 328.3L199 332.62L194.2 332.62Z" fill="#34a04a"/>
<path d="M211 329.1L213.4 333.42L208.6 333.42Z" fill="#34a04a"/>
<path d="M221.8 329.64L224.2 333.96L219.4 333.96Z" fill="#34a04a"/>
<path d="M236.2 325.08L238.6 329.4L233.8 329.4Z" fill="#34a04a"/>
<path d="M247 323.48L249.4 327.8L244.6 327.8Z" fill="#34a04a"/>
<path d="M261.4 321.06L263.8 325.38L259 325.38Z" fill="#34a04a"/>
<path d="M272.2 318.38L274.6 322.7L269.8 322.7Z" fill="#34a04a"/>
<path d="M286.6 300.16L289 304.48L284.2 304.48Z" fill="#34a04a"/>
<path d="M297.4 300.16L299.8 304.48L295 304.48Z" fill="#34a04a"/>
<path d="M311.8 299.36L314.2 303.68L309.4 303.68Z" fill="#34a04a"/>
<path d="M319 299.36L321.4 303.68L316.6 303.68Z" fill="#34a04a"/>
<circle cx="196.6" cy="330.7" r="2.1" fill="#d52b36"/>
<circle cx="211" cy="331.5" r="2.1" fill="#d52b36"/>
<circle cx="221.8" cy="331.5" r="2.1" fill="#d52b36"/>
<circle cx="236.2" cy="324.27" r="2.1" fill="#d52b36"/>
<circle cx="247" cy="320.78" r="2.1" fill="#d52b36"/>
<circle cx="261.4" cy="320.78" r="2.1" fill="#d52b36"/>
<circle cx="272.2" cy="317.57" r="2.1" fill="#d52b36"/>
<circle cx="286.6" cy="306.04" r="2.1" fill="#d52b36"/>
<circle cx="297.4" cy="311.67" r="2.1" fill="#d52b36"/>
<circle cx="311.8" cy="309.26" r="2.1" fill="#d52b36"/>
<circle cx="319" cy="304.17" r="2.1" fill="#d52b36"/>
<path d="M196.6 328.5L198.8 332.46L194.4 332.46Z" fill="#fff" stroke="#2f3f96" stroke-width="1.1"/>
<path d="M211 315.37L213.2 319.33L208.8 319.33Z" fill="#fff" stroke="#2f3f96" stroke-width="1.1"/>
<path d="M221.8 310.28L224 314.24L219.6 314.24Z" fill="#fff" stroke="#2f3f96" stroke-width="1.1"/>
<path d="M236.2 309.47L238.4 313.43L234 313.43Z" fill="#fff" stroke="#2f3f96" stroke-width="1.1"/>
<path d="M247 307.06L249.2 311.02L244.8 311.02Z" fill="#fff" stroke="#2f3f96" stroke-width="1.1"/>
<path d="M261.4 308.4L263.6 312.36L259.2 312.36Z" fill="#fff" stroke="#2f3f96" stroke-width="1.1"/>
<path d="M272.2 296.34L274.4 300.3L270 300.3Z" fill="#fff" stroke="#2f3f96" stroke-width="1.1"/>
<path d="M286.6 276.24L288.8 280.2L284.4 280.2Z" fill="#fff" stroke="#2f3f96" stroke-width="1.1"/>
<path d="M297.4 282.4L299.6 286.36L295.2 286.36Z" fill="#fff" stroke="#2f3f96" stroke-width="1.1"/>
<path d="M311.8 275.7L314 279.66L309.6 279.66Z" fill="#fff" stroke="#2f3f96" stroke-width="1.1"/>
<path d="M319 271.68L321.2 275.64L316.8 275.64Z" fill="#fff" stroke="#2f3f96" stroke-width="1.1"/>
<rect x="194.25" y="328.35" width="4.7" height="4.7" fill="#111"/>
<rect x="208.65" y="321.11" width="4.7" height="4.7" fill="#111"/>
<rect x="219.45" y="310.13" width="4.7" height="4.7" fill="#111"/>
<rect x="233.85" y="303.69" width="4.7" height="4.7" fill="#111"/>
<rect x="244.65" y="296.99" width="4.7" height="4.7" fill="#111"/>
<rect x="259.05" y="292.17" width="4.7" height="4.7" fill="#111"/>
<rect x="269.85" y="278.77" width="4.7" height="4.7" fill="#111"/>
<rect x="284.25" y="257.33" width="4.7" height="4.7" fill="#111"/>
<rect x="295.05" y="253.31" width="4.7" height="4.7" fill="#111"/>
<rect x="309.45" y="243.13" width="4.7" height="4.7" fill="#111"/>
<rect x="316.65" y="252.51" width="4.7" height="4.7" fill="#111"/>
<line x1="196.4" y1="196.8" x2="206.7" y2="196.8" stroke="#111" stroke-width="1.0"/>
<rect x="199" y="194.8" width="4" height="4" fill="#111"/>
<text x="213.3" y="199.29" font-size="7.1" text-anchor="start" fill="#2a2a2a">Vehicle (polysorbate) p.o. q.d.</text>
<line x1="196.4" y1="206.8" x2="206.7" y2="206.8" stroke="#2f3f96" stroke-width="1.0"/>
<path d="M201 204.93L202.87 208.3L199.13 208.3Z" fill="#fff" stroke="#2f3f96" stroke-width="1.1"/>
<text x="213.3" y="209.29" font-size="7.1" text-anchor="start" fill="#2a2a2a">Tamoxifen 4 mg/kg p.o. q.d.</text>
<line x1="196.4" y1="216.7" x2="206.7" y2="216.7" stroke="#d52b36" stroke-width="1.0"/>
<circle cx="201" cy="216.7" r="1.78" fill="#d52b36"/>
<text x="213.3" y="219.19" font-size="7.1" text-anchor="start" fill="#2a2a2a">AZD2014 15 mg/kg p.o. q.d.</text>
<line x1="196.4" y1="226.3" x2="206.7" y2="226.3" stroke="#34a04a" stroke-width="1.0"/>
<path d="M201 224.26L203.04 227.93L198.96 227.93Z" fill="#34a04a"/>
<text x="213.3" y="228.79" font-size="7.1" text-anchor="start" fill="#2a2a2a">AZD2014 + tamoxifen</text>
<line x1="380.8" y1="330.4" x2="380.8" y2="227.5" stroke="#2a2a2a" stroke-width="1.35"/>
<line x1="380.12" y1="330.4" x2="519" y2="330.4" stroke="#2a2a2a" stroke-width="1.35"/>
<line x1="378.6" y1="330.4" x2="380.8" y2="330.4" stroke="#2a2a2a" stroke-width="1.35"/>
<line x1="378.6" y1="304.67" x2="380.8" y2="304.67" stroke="#2a2a2a" stroke-width="1.35"/>
<line x1="378.6" y1="278.95" x2="380.8" y2="278.95" stroke="#2a2a2a" stroke-width="1.35"/>
<line x1="378.6" y1="253.22" x2="380.8" y2="253.22" stroke="#2a2a2a" stroke-width="1.35"/>
<line x1="378.6" y1="227.5" x2="380.8" y2="227.5" stroke="#2a2a2a" stroke-width="1.35"/>
<text x="373.75" y="332.9" font-size="7.1" font-weight="bold" fill="#2a2a2a" textLength="3.65" lengthAdjust="spacingAndGlyphs">0</text>
<text x="370.1" y="307.17" font-size="7.1" font-weight="bold" fill="#2a2a2a" textLength="7.3" lengthAdjust="spacingAndGlyphs">50</text>
<text x="366.5" y="281.45" font-size="7.1" font-weight="bold" fill="#2a2a2a" textLength="10.9" lengthAdjust="spacingAndGlyphs">100</text>
<text x="366.5" y="255.72" font-size="7.1" font-weight="bold" fill="#2a2a2a" textLength="10.9" lengthAdjust="spacingAndGlyphs">150</text>
<text x="366.5" y="230" font-size="7.1" font-weight="bold" fill="#2a2a2a" textLength="10.9" lengthAdjust="spacingAndGlyphs">200</text>
<line x1="416.5" y1="330.4" x2="416.5" y2="333" stroke="#2a2a2a" stroke-width="1.1"/>
<line x1="486" y1="330.4" x2="486" y2="333" stroke="#2a2a2a" stroke-width="1.1"/>
<text x="416.5" y="341" font-size="7.2" font-weight="bold" text-anchor="middle" fill="#2a2a2a">Vehicle</text>
<text x="485" y="341" font-size="6.8" font-weight="bold" text-anchor="middle" fill="#2a2a2a">AZD2014</text>
<text transform="translate(360.6,279) rotate(-90)" x="-53.5" font-size="6.7" font-weight="bold" fill="#2a2a2a" textLength="107" lengthAdjust="spacing">Protein expression (% control)</text>
<rect x="387.3" y="278.95" width="9.6" height="51.45" fill="#0a0a0a"/>
<line x1="392.1" y1="278.95" x2="392.1" y2="252.2" stroke="#1a1a1a" stroke-width="1.2"/>
<line x1="389.9" y1="252.2" x2="394.3" y2="252.2" stroke="#1a1a1a" stroke-width="1.2"/>
<rect x="399.6" y="278.95" width="9.6" height="51.45" fill="#9a9a9a"/>
<line x1="404.4" y1="278.95" x2="404.4" y2="264.54" stroke="#1a1a1a" stroke-width="1.2"/>
<line x1="402.2" y1="264.54" x2="406.6" y2="264.54" stroke="#1a1a1a" stroke-width="1.2"/>
<rect x="411.9" y="278.95" width="9.6" height="51.45" fill="#858585"/>
<line x1="416.7" y1="278.95" x2="416.7" y2="269.69" stroke="#1a1a1a" stroke-width="1.2"/>
<line x1="414.5" y1="269.69" x2="418.9" y2="269.69" stroke="#1a1a1a" stroke-width="1.2"/>
<rect x="424.2" y="278.95" width="9.6" height="51.45" fill="#d8d8d8"/>
<line x1="429" y1="278.95" x2="429" y2="256.83" stroke="#1a1a1a" stroke-width="1.2"/>
<line x1="426.8" y1="256.83" x2="431.2" y2="256.83" stroke="#1a1a1a" stroke-width="1.2"/>
<rect x="436.5" y="278.95" width="9.6" height="51.45" fill="#5e5e5e"/>
<line x1="441.3" y1="278.95" x2="441.3" y2="268.66" stroke="#1a1a1a" stroke-width="1.2"/>
<line x1="439.1" y1="268.66" x2="443.5" y2="268.66" stroke="#1a1a1a" stroke-width="1.2"/>
<rect x="456.4" y="323.76" width="9.6" height="6.64" fill="#0a0a0a"/>
<line x1="461.2" y1="323.76" x2="461.2" y2="320.88" stroke="#1a1a1a" stroke-width="1.2"/>
<line x1="459" y1="320.88" x2="463.4" y2="320.88" stroke="#1a1a1a" stroke-width="1.2"/>
<rect x="468.7" y="322.99" width="9.6" height="7.41" fill="#9a9a9a"/>
<line x1="473.5" y1="322.99" x2="473.5" y2="321.04" stroke="#1a1a1a" stroke-width="1.2"/>
<line x1="471.3" y1="321.04" x2="475.7" y2="321.04" stroke="#1a1a1a" stroke-width="1.2"/>
<rect x="481" y="316.77" width="9.6" height="13.63" fill="#858585"/>
<line x1="485.8" y1="316.77" x2="485.8" y2="314.14" stroke="#1a1a1a" stroke-width="1.2"/>
<line x1="483.6" y1="314.14" x2="488" y2="314.14" stroke="#1a1a1a" stroke-width="1.2"/>
<rect x="493.3" y="319.24" width="9.6" height="11.16" fill="#d8d8d8"/>
<line x1="498.1" y1="319.24" x2="498.1" y2="315.22" stroke="#1a1a1a" stroke-width="1.2"/>
<line x1="495.9" y1="315.22" x2="500.3" y2="315.22" stroke="#1a1a1a" stroke-width="1.2"/>
<rect x="506.2" y="329.78" width="9.6" height="0.62" fill="#5e5e5e"/>
<rect x="451.5" y="220.6" width="9.6" height="4.8" fill="#0a0a0a"/>
<text x="465" y="225.3" font-size="6.4" font-weight="bold" text-anchor="start" fill="#2a2a2a">P AKT S473</text>
<rect x="451.5" y="229.45" width="9.6" height="4.8" fill="#9a9a9a"/>
<text x="465" y="234.15" font-size="6.4" font-weight="bold" text-anchor="start" fill="#2a2a2a">P P70S6K T389</text>
<rect x="451.5" y="238.3" width="9.6" height="4.8" fill="#858585"/>
<text x="465" y="243" font-size="6.4" font-weight="bold" text-anchor="start" fill="#2a2a2a">P NDRG1 T346</text>
<rect x="451.5" y="247.15" width="9.6" height="4.8" fill="#d8d8d8"/>
<text x="465" y="251.85" font-size="6.4" font-weight="bold" text-anchor="start" fill="#2a2a2a">P 4EBP1 T37/46</text>
<rect x="451.5" y="256" width="9.6" height="4.8" fill="#5e5e5e"/>
<text x="465" y="260.7" font-size="6.4" font-weight="bold" text-anchor="start" fill="#2a2a2a">P S6RP S235/236</text>
</svg></body></html>
